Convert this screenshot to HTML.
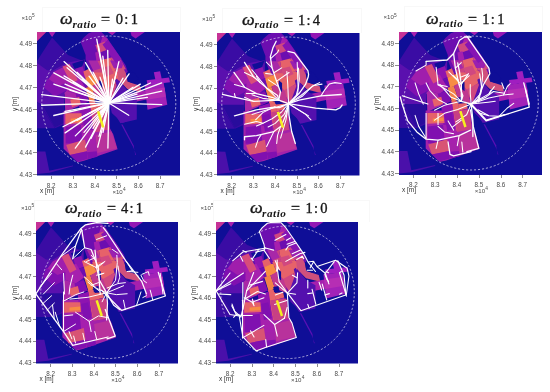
<!DOCTYPE html>
<html lang="en">
<head>
<meta charset="utf-8">
<title>Network layouts for different weight ratios</title>
<style>
html,body{margin:0;padding:0;background:#fff;}
#fig{position:relative;width:550px;height:392px;overflow:hidden;background:#fff;font-family:"Liberation Sans",sans-serif;}
.plot{position:absolute;display:block;}
.tk{position:absolute;width:3.5px;height:0.6px;background:#8c8c8c;}
.tkx{position:absolute;width:0.6px;height:3.5px;background:#8c8c8c;}
.yl{position:absolute;width:20px;text-align:right;font-size:6.4px;line-height:7px;color:#4a4a4a;}
.xl{position:absolute;width:20px;text-align:center;font-size:6.3px;line-height:7px;color:#4a4a4a;}
.ex{position:absolute;font-size:6.1px;line-height:7px;color:#4a4a4a;white-space:nowrap;}
.ex sup{font-size:4.8px;line-height:0;vertical-align:2.6px;margin-left:0.2px;}
.al{position:absolute;font-size:6.5px;line-height:8px;color:#2e2e2e;white-space:nowrap;}
.ay{transform-origin:0 0;transform:rotate(-90deg);}
.tb{position:absolute;box-sizing:border-box;border:0.6px solid #f8f8f8;border-bottom:none;background:transparent;}
.tt{position:absolute;font-family:"Liberation Serif",serif;font-size:14.5px;line-height:18px;height:18px;color:#161616;white-space:nowrap;-webkit-text-stroke:0.35px #161616;}
.tt span,.tt i,.tt sub{display:inline-block;}
.tt .om{font-size:16px;transform:scaleX(1.12);transform-origin:0 50%;}
.tt sub{font-style:italic;font-weight:bold;font-size:11.2px;line-height:0;vertical-align:-3.5px;letter-spacing:0.55px;margin-left:1.2px;-webkit-text-stroke:0;}
.tt .eq{margin-left:4.6px;transform:scaleX(1.1);transform-origin:0 50%;}
.tt .d1{margin-left:6.2px;}
.tt .co{margin-left:1.2px;}
.tt .d2{margin-left:2.3px;}
</style>
</head>
<body>
<div id="fig">
<!-- panel p1 -->
<svg class="plot" style="left:36.5px;top:32px" width="143" height="143.5" viewBox="0 0 143 143" preserveAspectRatio="none">
<rect x="0" y="0" width="143" height="143" fill="#0f0e97"/>
<g shape-rendering="geometricPrecision">
<polygon fill="#3a0ca4" points="15.1,5.4 31,23 46,29 46,62 27,62 27,92 18,96 3,72 0,70 0,29"/>
<polygon fill="#3a0ca4" points="0,70 3,72 18,96 0,96"/>
<polygon fill="#5a10ae" points="0,31 10,38 16,38.3 29.5,30.6 48,27.4 48,62 27,62 27,75 5,72 0,69.6"/>
<polygon fill="#280c9c" points="5,72 27,72 27,90.4 17.9,95"/>
<polygon fill="#4a10aa" points="0,119 8.4,119.1 12.3,138.3 36,133.1 36,133.9 12.5,140.3 0,141.6"/>
<polygon fill="#5a10b4" points="84.2,92.3 85.6,92.3 96.8,113.3 96.8,115.9"/>
<polygon fill="#5a10b4" points="96.5,112.8 96.5,115.4 99.1,122.5 98.3,122.5"/>
<polygon fill="#c63296" points="0,0 9.3,0 0,9.3"/>
<polygon fill="#a620ae" points="11.6,0 18.6,0 15.1,5.1"/>
<polygon fill="#a620ae" points="70.7,0 79,0 75.2,3.2"/>
<polygon fill="#9416b4" points="93.5,0 107.8,0 98.6,6.4 94.5,3.8"/>
<polygon fill="#6c0eb0" points="43.5,9.6 46.5,5.7 51.6,1.3 54.8,0 64.4,0 69.5,5.1 78.4,17.9 88.6,33.2 90.8,39.5 88,44 80,60 71.5,71.5 60,60 48.6,27.4 48.6,23"/>
<polygon fill="#a01eac" points="17,39.6 27.1,34.7 34.5,50.7 27.1,55.3 12.8,56.2 10.9,47.9"/>
<polygon fill="#0f0e97" points="35.1,31.7 47.8,27.6 44.7,35.4 37.8,36.9"/>
<polygon fill="#8e14b0" points="37.8,36.9 45.6,34.1 49.1,44.8 40.6,48.3"/>
<polygon fill="#e6626a" points="46.3,39.3 52.6,36.3 55.5,43.3 48.3,46.3"/>
<polygon fill="#f78c44" points="48.3,46.3 57.6,42 60.3,51.8 51.3,55.3"/>
<polygon fill="#6c0eb0" points="40.6,48.3 48.7,45.5 51.3,55.3 43.6,58.2"/>
<polygon fill="#f78c44" points="49.8,56.8 54.8,55.3 58.3,66 52.6,68"/>
<polygon fill="#d04880" points="60.3,51.8 68.8,48.3 73,59 64.6,61.8"/>
<polygon fill="#8010b0" points="10.6,46.1 21.6,53.5 31.8,49.8 34.2,55.9 17.9,64.5 6.9,55.3"/>
<polygon fill="#a620ae" points="65.9,3.8 71,7 68.4,12.8 63.3,11.5"/>
<polygon fill="#d04880" points="58.3,12.9 68,9.5 71,17.5 61,21"/>
<polygon fill="#a620ae" points="58.2,20.5 63.3,19.2 65.2,27.5 59.5,29.4"/>
<polygon fill="#e6626a" points="63.3,28.2 73.5,25.6 78.7,38.4 65.9,42.2"/>
<polygon fill="#cc4280" points="54.3,30.7 63.3,28.2 65.9,42.2 58.2,43.5"/>
<polygon fill="#d04880" points="73.5,25.6 81.2,23 88.9,37.1 78.7,38.4"/>
<polygon fill="#0f0e97" points="88.9,41 94.7,38.4 96.8,42.2 96.8,50.2 90.2,50.2 87.6,44.8"/>
<polygon fill="#e6626a" points="59.5,43.5 78.7,38.4 87.6,44.8 88.9,50.2 60.7,50.2"/>
<polygon fill="#5410ae" points="80.1,46.3 85.5,57.2 91.8,62.6 92.7,87.9 85.5,90.6 74.8,80.6 71.2,64.4 74.8,50"/>
<polygon fill="#d0507c" points="80.1,37.4 85.8,35.1 89.3,41.9 90.7,49.4 96.1,51.3 103.1,53.5 104.7,60.4 90.3,56.8 81.4,47.7"/>
<polygon fill="#0f0e97" points="89.3,41.3 96.7,40 101.8,46.4 96.1,51.1 90.7,49.3"/>
<polygon fill="#a620ae" points="90.9,61.7 108.8,58.1 110.6,67.1 92.7,70.7"/>
<polygon fill="#a01ec0" points="116.8,40 123.1,39.1 125.8,51.8 119.5,52.7"/>
<polygon fill="#a01ec0" points="109.6,48.1 132.1,45.4 133,50 110.5,52.7"/>
<polygon fill="#a222b8" points="107.8,52.7 126.7,50.9 130.3,72.5 110.5,77.4"/>
<polygon fill="#b62eb4" points="108.3,58.1 127.6,55.4 128.8,64.4 109.6,67.6"/>
<polygon fill="#5a10ae" points="92.7,70.7 97.2,69.8 99,82.4 92.7,87.9"/>
<polygon fill="#a422aa" points="26.6,78.6 71.5,78.4 73.1,96.4 76.3,102.2 80.6,116.8 47,128.4 40.9,129.8 26.6,116.4"/>
<polygon fill="#a620ae" points="29.6,45.8 40.4,42.2 48.4,55.8 40.4,62.1 29.6,58.5"/>
<polygon fill="#aa28a8" points="27.5,60.6 29.6,58.5 40.4,62.1 42.1,73.8 29.6,79.2 28.2,79.2"/>
<polygon fill="#8010b0" points="38.6,62.1 48.4,58.5 52,69.3 42.1,73.8"/>
<polygon fill="#e6626a" points="33.2,67.5 42.1,64.8 43.9,72 35,74.7"/>
<polygon fill="#e6626a" points="56.5,40.4 76.2,40.4 78.9,51.3 68.1,58.5 61,50.3"/>
<polygon fill="#f78c44" points="48.4,45.8 56.5,42.2 61,50.3 51.1,55.8"/>
<polygon fill="#f28248" points="48.4,55.8 54.7,54 59.2,67.5 52.9,70.2"/>
<polygon fill="#d04880" points="65.4,58.5 78.9,51.3 83.4,60.3 73.5,70.2"/>
<polygon fill="#c03890" points="54.7,54 61,50.3 68.1,58.5 71.7,72 59.2,67.5"/>
<polygon fill="#a822ac" points="59.6,78.8 68.5,76.4 71.9,94.2 64.3,99"/>
<polygon fill="#e6626a" points="52,68.7 58.9,68.7 61.2,88 64.3,99 57.4,99 54.3,84.2"/>
<polygon fill="#e6626a" points="58.9,71.8 67.3,71 68.5,76.4 59.6,78.8"/>
<polygon fill="#8e14b0" points="42.1,73.8 52.9,70.2 56.5,96.4 43.9,92.8"/>
<polygon fill="#f78c44" points="33.2,86.4 43.9,85.5 43.9,89.1 33.2,90.1"/>
<polygon fill="#0f0e97" points="57.4,65.7 62.8,64.8 63.7,70.2 58.3,71.1"/>
<polygon fill="#a620ae" points="43.9,92.8 56.5,94.6 58.3,111.2 45.7,111.2"/>
<polygon fill="#8010b0" points="28.7,94.6 43.9,92.8 45.7,111.2 28.7,111.2"/>
<polygon fill="#5410ae" points="81.6,47.6 90.5,58.5 99.8,63.9 99.8,87.3 83.4,91 72.6,72.9"/>
<polygon fill="#e6626a" points="28.3,81 44.5,81 45.4,90.9 28.3,91.8"/>
<polygon fill="#f78c44" points="33.7,86.4 44.5,85.5 44.5,89.1 33.7,89.7"/>
<polygon fill="#8010b0" points="45.4,82.8 52.5,81 56.1,97.2 48.1,99"/>
<polygon fill="#c84084" points="54.3,79.2 70.5,77.4 72.3,97.2 57.9,99.9"/>
<polygon fill="#d85474" points="29.2,112.6 48.1,107.2 49.9,118.9 32.8,122.5"/>
<polygon fill="#b8329c" points="58.5,103 74.5,99.2 80,116 60.5,120.5"/>
<polygon fill="#8010b0" points="32.8,122.5 49.9,118.9 50.7,126.5 40,129.4"/>
<polygon fill="#8010b0" points="49.9,119.8 59.7,118.9 60.6,124.3 51.1,126.5"/>
<polygon fill="#d84c7a" points="25.5,34.5 32.6,31.9 40.8,47.9 34.2,51.5"/>
<polygon fill="#a828a8" points="51.3,28.3 60.2,28.3 64.1,36 56.4,38.6"/>
<polygon fill="#9a20b0" points="73,28.3 84.5,28.3 86,33 84.8,36 76.9,36"/>
<polygon fill="#d04880" points="64.1,36 73,33.5 76.9,41.2 67.9,45"/>
<polygon fill="#0f0e97" points="62.1,47.6 65.3,50.2 65.3,59.2 62.1,56.7"/>
<polygon fill="#8614b4" points="71,8 84.5,27 78.8,31 65.5,12.5"/>
</g>
<circle cx="71.8" cy="71" r="67" fill="none" stroke="#e8e4f4" stroke-width="0.7" stroke-dasharray="2.1 1.9"/>
<polyline fill="none" stroke="#fff" stroke-width="1.3" stroke-linecap="round" stroke-linejoin="round" points="71.9,70.7 59.7,7.1"/>
<polyline fill="none" stroke="#fff" stroke-width="1.3" stroke-linecap="round" stroke-linejoin="round" points="71.9,70.7 61.5,14"/>
<polyline fill="none" stroke="#fff" stroke-width="1.3" stroke-linecap="round" stroke-linejoin="round" points="71.9,70.7 70.7,18.3"/>
<polyline fill="none" stroke="#fff" stroke-width="1.3" stroke-linecap="round" stroke-linejoin="round" points="71.9,70.7 65.8,24"/>
<polyline fill="none" stroke="#fff" stroke-width="1.3" stroke-linecap="round" stroke-linejoin="round" points="71.9,70.7 48.5,30.5"/>
<polyline fill="none" stroke="#fff" stroke-width="1.3" stroke-linecap="round" stroke-linejoin="round" points="71.9,70.7 56,40"/>
<polyline fill="none" stroke="#fff" stroke-width="1.3" stroke-linecap="round" stroke-linejoin="round" points="71.9,70.7 27,29.5"/>
<polyline fill="none" stroke="#fff" stroke-width="1.3" stroke-linecap="round" stroke-linejoin="round" points="71.9,70.7 30.1,35.6"/>
<polyline fill="none" stroke="#fff" stroke-width="1.3" stroke-linecap="round" stroke-linejoin="round" points="71.9,70.7 16.8,40.7"/>
<polyline fill="none" stroke="#fff" stroke-width="1.3" stroke-linecap="round" stroke-linejoin="round" points="71.9,70.7 27,43.7"/>
<polyline fill="none" stroke="#fff" stroke-width="1.3" stroke-linecap="round" stroke-linejoin="round" points="71.9,70.7 16.8,51.9"/>
<polyline fill="none" stroke="#fff" stroke-width="1.3" stroke-linecap="round" stroke-linejoin="round" points="71.9,70.7 28,52"/>
<polyline fill="none" stroke="#fff" stroke-width="1.3" stroke-linecap="round" stroke-linejoin="round" points="71.9,70.7 36,50"/>
<polyline fill="none" stroke="#fff" stroke-width="1.3" stroke-linecap="round" stroke-linejoin="round" points="71.9,70.7 4.6,62.5"/>
<polyline fill="none" stroke="#fff" stroke-width="1.3" stroke-linecap="round" stroke-linejoin="round" points="71.9,70.7 40,40"/>
<polyline fill="none" stroke="#fff" stroke-width="1.3" stroke-linecap="round" stroke-linejoin="round" points="71.9,70.7 45,47"/>
<polyline fill="none" stroke="#fff" stroke-width="1.3" stroke-linecap="round" stroke-linejoin="round" points="71.9,70.7 33,58"/>
<polyline fill="none" stroke="#fff" stroke-width="1.3" stroke-linecap="round" stroke-linejoin="round" points="71.9,70.7 52,44"/>
<polyline fill="none" stroke="#fff" stroke-width="1.3" stroke-linecap="round" stroke-linejoin="round" points="71.9,70.7 63,45"/>
<polyline fill="none" stroke="#fff" stroke-width="1.3" stroke-linecap="round" stroke-linejoin="round" points="71.9,70.7 81.9,29.5"/>
<polyline fill="none" stroke="#fff" stroke-width="1.3" stroke-linecap="round" stroke-linejoin="round" points="71.9,70.7 79.8,38.6"/>
<polyline fill="none" stroke="#fff" stroke-width="1.3" stroke-linecap="round" stroke-linejoin="round" points="71.9,70.7 92.1,41.7"/>
<polyline fill="none" stroke="#fff" stroke-width="1.3" stroke-linecap="round" stroke-linejoin="round" points="71.9,70.7 103.3,51.9"/>
<polyline fill="none" stroke="#fff" stroke-width="1.3" stroke-linecap="round" stroke-linejoin="round" points="71.9,70.7 113.5,50.8"/>
<polyline fill="none" stroke="#fff" stroke-width="1.3" stroke-linecap="round" stroke-linejoin="round" points="71.9,70.7 124.7,50.8"/>
<polyline fill="none" stroke="#fff" stroke-width="1.3" stroke-linecap="round" stroke-linejoin="round" points="71.9,70.7 124.7,59"/>
<polyline fill="none" stroke="#fff" stroke-width="1.3" stroke-linecap="round" stroke-linejoin="round" points="71.9,70.7 110.4,65.1"/>
<polyline fill="none" stroke="#fff" stroke-width="1.3" stroke-linecap="round" stroke-linejoin="round" points="71.9,70.7 124.7,72.4"/>
<polyline fill="none" stroke="#fff" stroke-width="1.3" stroke-linecap="round" stroke-linejoin="round" points="71.9,70.7 86,46"/>
<polyline fill="none" stroke="#fff" stroke-width="1.3" stroke-linecap="round" stroke-linejoin="round" points="71.9,70.7 96,55"/>
<polyline fill="none" stroke="#fff" stroke-width="1.3" stroke-linecap="round" stroke-linejoin="round" points="71.9,70.7 100,62"/>
<polyline fill="none" stroke="#fff" stroke-width="1.3" stroke-linecap="round" stroke-linejoin="round" points="71.9,70.7 75.5,47"/>
<polyline fill="none" stroke="#fff" stroke-width="1.3" stroke-linecap="round" stroke-linejoin="round" points="71.9,70.7 4.6,73"/>
<polyline fill="none" stroke="#fff" stroke-width="1.3" stroke-linecap="round" stroke-linejoin="round" points="71.9,70.7 16.8,83.2"/>
<polyline fill="none" stroke="#fff" stroke-width="1.3" stroke-linecap="round" stroke-linejoin="round" points="71.9,70.7 26,94.4"/>
<polyline fill="none" stroke="#fff" stroke-width="1.3" stroke-linecap="round" stroke-linejoin="round" points="71.9,70.7 28.1,100.5"/>
<polyline fill="none" stroke="#fff" stroke-width="1.3" stroke-linecap="round" stroke-linejoin="round" points="71.9,70.7 38.3,103.5"/>
<polyline fill="none" stroke="#fff" stroke-width="1.3" stroke-linecap="round" stroke-linejoin="round" points="71.9,70.7 38.3,115.7"/>
<polyline fill="none" stroke="#fff" stroke-width="1.3" stroke-linecap="round" stroke-linejoin="round" points="71.9,70.7 48.5,114.7"/>
<polyline fill="none" stroke="#fff" stroke-width="1.3" stroke-linecap="round" stroke-linejoin="round" points="71.9,70.7 60.7,114.7"/>
<polyline fill="none" stroke="#fff" stroke-width="1.3" stroke-linecap="round" stroke-linejoin="round" points="71.9,70.7 70.9,115.7"/>
<polyline fill="none" stroke="#fff" stroke-width="1.3" stroke-linecap="round" stroke-linejoin="round" points="71.9,70.7 28,79"/>
<polyline fill="none" stroke="#fff" stroke-width="1.3" stroke-linecap="round" stroke-linejoin="round" points="71.9,70.7 40,88"/>
<polyline fill="none" stroke="#fff" stroke-width="1.3" stroke-linecap="round" stroke-linejoin="round" points="71.9,70.7 33,91"/>
<polyline fill="none" stroke="#fff" stroke-width="1.3" stroke-linecap="round" stroke-linejoin="round" points="71.9,70.7 47,100"/>
<polyline fill="none" stroke="#fff" stroke-width="1.3" stroke-linecap="round" stroke-linejoin="round" points="71.9,70.7 54,106"/>
<polyline fill="none" stroke="#fff" stroke-width="1.3" stroke-linecap="round" stroke-linejoin="round" points="71.9,70.7 56,96"/>
<polyline fill="none" stroke="#fff" stroke-width="1.3" stroke-linecap="round" stroke-linejoin="round" points="71.9,70.7 62,104"/>
<polyline fill="none" stroke="#fff" stroke-width="1.3" stroke-linecap="round" stroke-linejoin="round" points="71.9,70.7 66,100"/>
<polyline fill="none" stroke="#fff" stroke-width="1.3" stroke-linecap="round" stroke-linejoin="round" points="71.9,70.7 91.7,83"/>
<polyline fill="none" stroke="#f4f01e" stroke-width="2.5" stroke-linecap="butt" points="61.1,79.2 66.2,95"/>
</svg>
<div class="tk" style="left:33px;top:43.3px"></div>
<div class="yl" style="left:12px;top:40px">4.49</div>
<div class="tk" style="left:33px;top:65.1px"></div>
<div class="yl" style="left:12px;top:61.8px">4.48</div>
<div class="tk" style="left:33px;top:87px"></div>
<div class="yl" style="left:12px;top:83.7px">4.47</div>
<div class="tk" style="left:33px;top:108.8px"></div>
<div class="yl" style="left:12px;top:105.5px">4.46</div>
<div class="tk" style="left:33px;top:130.6px"></div>
<div class="yl" style="left:12px;top:127.3px">4.45</div>
<div class="tk" style="left:33px;top:152.4px"></div>
<div class="yl" style="left:12px;top:149.1px">4.44</div>
<div class="tk" style="left:33px;top:174.2px"></div>
<div class="yl" style="left:12px;top:170.9px">4.43</div>
<div class="tkx" style="left:50.9px;top:175.5px"></div>
<div class="xl" style="left:41.2px;top:181.9px">8.2</div>
<div class="tkx" style="left:72.7px;top:175.5px"></div>
<div class="xl" style="left:63px;top:181.9px">8.3</div>
<div class="tkx" style="left:94.5px;top:175.5px"></div>
<div class="xl" style="left:84.8px;top:181.9px">8.4</div>
<div class="tkx" style="left:116.3px;top:175.5px"></div>
<div class="xl" style="left:106.6px;top:181.9px">8.5</div>
<div class="tkx" style="left:138.1px;top:175.5px"></div>
<div class="xl" style="left:128.4px;top:181.9px">8.6</div>
<div class="tkx" style="left:159.9px;top:175.5px"></div>
<div class="xl" style="left:150.2px;top:181.9px">8.7</div>
<div class="ex" style="left:21.5px;top:13.8px">×10<sup>5</sup></div>
<div class="ex" style="left:112.4px;top:187.8px">×10<sup>4</sup></div>
<div class="al" style="left:40px;top:187.1px">x [m]</div>
<div class="al ay" style="left:11px;top:110.7px">y [m]</div>
<div class="tb" style="left:41.5px;top:6.5px;width:139.5px;height:25.5px"></div>
<div class="tt" style="left:59.9px;top:10.2px"><i class="om">ω</i><sub>ratio</sub><span class="eq">=</span><span class="d1">0</span><span class="co">:</span><span class="d2">1</span></div>
<!-- panel p2 -->
<svg class="plot" style="left:217px;top:33px" width="142.5" height="142.5" viewBox="0 0 143 143" preserveAspectRatio="none">
<rect x="0" y="0" width="143" height="143" fill="#0f0e97"/>
<g shape-rendering="geometricPrecision">
<polygon fill="#3a0ca4" points="15.1,5.4 31,23 46,29 46,62 27,62 27,92 18,96 3,72 0,70 0,29"/>
<polygon fill="#3a0ca4" points="0,70 3,72 18,96 0,96"/>
<polygon fill="#5a10ae" points="0,31 10,38 16,38.3 29.5,30.6 48,27.4 48,62 27,62 27,75 5,72 0,69.6"/>
<polygon fill="#280c9c" points="5,72 27,72 27,90.4 17.9,95"/>
<polygon fill="#4a10aa" points="0,119 8.4,119.1 12.3,138.3 36,133.1 36,133.9 12.5,140.3 0,141.6"/>
<polygon fill="#5a10b4" points="84.2,92.3 85.6,92.3 96.8,113.3 96.8,115.9"/>
<polygon fill="#5a10b4" points="96.5,112.8 96.5,115.4 99.1,122.5 98.3,122.5"/>
<polygon fill="#c63296" points="0,0 9.3,0 0,9.3"/>
<polygon fill="#a620ae" points="11.6,0 18.6,0 15.1,5.1"/>
<polygon fill="#a620ae" points="70.7,0 79,0 75.2,3.2"/>
<polygon fill="#9416b4" points="93.5,0 107.8,0 98.6,6.4 94.5,3.8"/>
<polygon fill="#6c0eb0" points="43.5,9.6 46.5,5.7 51.6,1.3 54.8,0 64.4,0 69.5,5.1 78.4,17.9 88.6,33.2 90.8,39.5 88,44 80,60 71.5,71.5 60,60 48.6,27.4 48.6,23"/>
<polygon fill="#a01eac" points="17,39.6 27.1,34.7 34.5,50.7 27.1,55.3 12.8,56.2 10.9,47.9"/>
<polygon fill="#0f0e97" points="35.1,31.7 47.8,27.6 44.7,35.4 37.8,36.9"/>
<polygon fill="#8e14b0" points="37.8,36.9 45.6,34.1 49.1,44.8 40.6,48.3"/>
<polygon fill="#e6626a" points="46.3,39.3 52.6,36.3 55.5,43.3 48.3,46.3"/>
<polygon fill="#f78c44" points="48.3,46.3 57.6,42 60.3,51.8 51.3,55.3"/>
<polygon fill="#6c0eb0" points="40.6,48.3 48.7,45.5 51.3,55.3 43.6,58.2"/>
<polygon fill="#f78c44" points="49.8,56.8 54.8,55.3 58.3,66 52.6,68"/>
<polygon fill="#d04880" points="60.3,51.8 68.8,48.3 73,59 64.6,61.8"/>
<polygon fill="#8010b0" points="10.6,46.1 21.6,53.5 31.8,49.8 34.2,55.9 17.9,64.5 6.9,55.3"/>
<polygon fill="#a620ae" points="65.9,3.8 71,7 68.4,12.8 63.3,11.5"/>
<polygon fill="#d04880" points="58.3,12.9 68,9.5 71,17.5 61,21"/>
<polygon fill="#a620ae" points="58.2,20.5 63.3,19.2 65.2,27.5 59.5,29.4"/>
<polygon fill="#e6626a" points="63.3,28.2 73.5,25.6 78.7,38.4 65.9,42.2"/>
<polygon fill="#cc4280" points="54.3,30.7 63.3,28.2 65.9,42.2 58.2,43.5"/>
<polygon fill="#d04880" points="73.5,25.6 81.2,23 88.9,37.1 78.7,38.4"/>
<polygon fill="#0f0e97" points="88.9,41 94.7,38.4 96.8,42.2 96.8,50.2 90.2,50.2 87.6,44.8"/>
<polygon fill="#e6626a" points="59.5,43.5 78.7,38.4 87.6,44.8 88.9,50.2 60.7,50.2"/>
<polygon fill="#5410ae" points="80.1,46.3 85.5,57.2 91.8,62.6 92.7,87.9 85.5,90.6 74.8,80.6 71.2,64.4 74.8,50"/>
<polygon fill="#d0507c" points="80.1,37.4 85.8,35.1 89.3,41.9 90.7,49.4 96.1,51.3 103.1,53.5 104.7,60.4 90.3,56.8 81.4,47.7"/>
<polygon fill="#0f0e97" points="89.3,41.3 96.7,40 101.8,46.4 96.1,51.1 90.7,49.3"/>
<polygon fill="#a620ae" points="90.9,61.7 108.8,58.1 110.6,67.1 92.7,70.7"/>
<polygon fill="#a01ec0" points="116.8,40 123.1,39.1 125.8,51.8 119.5,52.7"/>
<polygon fill="#a01ec0" points="109.6,48.1 132.1,45.4 133,50 110.5,52.7"/>
<polygon fill="#a222b8" points="107.8,52.7 126.7,50.9 130.3,72.5 110.5,77.4"/>
<polygon fill="#b62eb4" points="108.3,58.1 127.6,55.4 128.8,64.4 109.6,67.6"/>
<polygon fill="#5a10ae" points="92.7,70.7 97.2,69.8 99,82.4 92.7,87.9"/>
<polygon fill="#a422aa" points="26.6,78.6 71.5,78.4 73.1,96.4 76.3,102.2 80.6,116.8 47,128.4 40.9,129.8 26.6,116.4"/>
<polygon fill="#a620ae" points="29.6,45.8 40.4,42.2 48.4,55.8 40.4,62.1 29.6,58.5"/>
<polygon fill="#aa28a8" points="27.5,60.6 29.6,58.5 40.4,62.1 42.1,73.8 29.6,79.2 28.2,79.2"/>
<polygon fill="#8010b0" points="38.6,62.1 48.4,58.5 52,69.3 42.1,73.8"/>
<polygon fill="#e6626a" points="33.2,67.5 42.1,64.8 43.9,72 35,74.7"/>
<polygon fill="#e6626a" points="56.5,40.4 76.2,40.4 78.9,51.3 68.1,58.5 61,50.3"/>
<polygon fill="#f78c44" points="48.4,45.8 56.5,42.2 61,50.3 51.1,55.8"/>
<polygon fill="#f28248" points="48.4,55.8 54.7,54 59.2,67.5 52.9,70.2"/>
<polygon fill="#d04880" points="65.4,58.5 78.9,51.3 83.4,60.3 73.5,70.2"/>
<polygon fill="#c03890" points="54.7,54 61,50.3 68.1,58.5 71.7,72 59.2,67.5"/>
<polygon fill="#a822ac" points="59.6,78.8 68.5,76.4 71.9,94.2 64.3,99"/>
<polygon fill="#e6626a" points="52,68.7 58.9,68.7 61.2,88 64.3,99 57.4,99 54.3,84.2"/>
<polygon fill="#e6626a" points="58.9,71.8 67.3,71 68.5,76.4 59.6,78.8"/>
<polygon fill="#8e14b0" points="42.1,73.8 52.9,70.2 56.5,96.4 43.9,92.8"/>
<polygon fill="#f78c44" points="33.2,86.4 43.9,85.5 43.9,89.1 33.2,90.1"/>
<polygon fill="#0f0e97" points="57.4,65.7 62.8,64.8 63.7,70.2 58.3,71.1"/>
<polygon fill="#a620ae" points="43.9,92.8 56.5,94.6 58.3,111.2 45.7,111.2"/>
<polygon fill="#8010b0" points="28.7,94.6 43.9,92.8 45.7,111.2 28.7,111.2"/>
<polygon fill="#5410ae" points="81.6,47.6 90.5,58.5 99.8,63.9 99.8,87.3 83.4,91 72.6,72.9"/>
<polygon fill="#e6626a" points="28.3,81 44.5,81 45.4,90.9 28.3,91.8"/>
<polygon fill="#f78c44" points="33.7,86.4 44.5,85.5 44.5,89.1 33.7,89.7"/>
<polygon fill="#8010b0" points="45.4,82.8 52.5,81 56.1,97.2 48.1,99"/>
<polygon fill="#c84084" points="54.3,79.2 70.5,77.4 72.3,97.2 57.9,99.9"/>
<polygon fill="#d85474" points="29.2,112.6 48.1,107.2 49.9,118.9 32.8,122.5"/>
<polygon fill="#b8329c" points="58.5,103 74.5,99.2 80,116 60.5,120.5"/>
<polygon fill="#8010b0" points="32.8,122.5 49.9,118.9 50.7,126.5 40,129.4"/>
<polygon fill="#8010b0" points="49.9,119.8 59.7,118.9 60.6,124.3 51.1,126.5"/>
<polygon fill="#d84c7a" points="25.5,34.5 32.6,31.9 40.8,47.9 34.2,51.5"/>
<polygon fill="#a828a8" points="51.3,28.3 60.2,28.3 64.1,36 56.4,38.6"/>
<polygon fill="#9a20b0" points="73,28.3 84.5,28.3 86,33 84.8,36 76.9,36"/>
<polygon fill="#d04880" points="64.1,36 73,33.5 76.9,41.2 67.9,45"/>
<polygon fill="#0f0e97" points="62.1,47.6 65.3,50.2 65.3,59.2 62.1,56.7"/>
<polygon fill="#8614b4" points="71,8 84.5,27 78.8,31 65.5,12.5"/>
</g>
<circle cx="71.8" cy="71" r="67" fill="none" stroke="#e8e4f4" stroke-width="0.7" stroke-dasharray="2.1 1.9"/>
<polyline fill="none" stroke="#fff" stroke-width="1.3" stroke-linecap="round" stroke-linejoin="round" points="62,67.4 71.8,70.9"/>
<polyline fill="none" stroke="#fff" stroke-width="1.3" stroke-linecap="round" stroke-linejoin="round" points="62,67.4 63.6,59 59,46.1 55.3,35 53.5,24 56.2,14.7 59.4,8.3"/>
<polyline fill="none" stroke="#fff" stroke-width="1.05" stroke-linecap="round" stroke-linejoin="round" points="55.3,35 49.4,29.1"/>
<polyline fill="none" stroke="#fff" stroke-width="1.05" stroke-linecap="round" stroke-linejoin="round" points="53.8,25.8 60.8,19.4 61.9,17"/>
<polyline fill="none" stroke="#fff" stroke-width="1.05" stroke-linecap="round" stroke-linejoin="round" points="57.5,39.6 64.9,35"/>
<polyline fill="none" stroke="#fff" stroke-width="1.05" stroke-linecap="round" stroke-linejoin="round" points="59.9,48.3 72.3,39.6"/>
<polyline fill="none" stroke="#fff" stroke-width="1.05" stroke-linecap="round" stroke-linejoin="round" points="61.4,53.5 51.6,47"/>
<polyline fill="none" stroke="#fff" stroke-width="1.05" stroke-linecap="round" stroke-linejoin="round" points="48.8,40.5 55.3,41.5"/>
<polyline fill="none" stroke="#fff" stroke-width="1.3" stroke-linecap="round" stroke-linejoin="round" points="62,67.4 60.8,62.7 49.8,55.3 36.9,44.2 27.6,29.5"/>
<polyline fill="none" stroke="#fff" stroke-width="1.05" stroke-linecap="round" stroke-linejoin="round" points="36.9,44.2 27.6,39.6"/>
<polyline fill="none" stroke="#fff" stroke-width="1.05" stroke-linecap="round" stroke-linejoin="round" points="43.3,49.8 39.6,43.3"/>
<polyline fill="none" stroke="#fff" stroke-width="1.3" stroke-linecap="round" stroke-linejoin="round" points="62,67.4 55.3,64.5 39.6,60.8 27.6,54.4 17,39.6"/>
<polyline fill="none" stroke="#fff" stroke-width="1.05" stroke-linecap="round" stroke-linejoin="round" points="39.6,60.8 29.5,60.8"/>
<polyline fill="none" stroke="#fff" stroke-width="1.05" stroke-linecap="round" stroke-linejoin="round" points="27.6,54.4 17.5,51.6"/>
<polyline fill="none" stroke="#fff" stroke-width="1.3" stroke-linecap="round" stroke-linejoin="round" points="62,67.4 36.9,68.6 18.4,64.5 5.5,61.7"/>
<polyline fill="none" stroke="#fff" stroke-width="1.05" stroke-linecap="round" stroke-linejoin="round" points="18.4,64.5 17.5,60.8"/>
<polyline fill="none" stroke="#fff" stroke-width="1.05" stroke-linecap="round" stroke-linejoin="round" points="36.9,68.6 27.6,64.5"/>
<polyline fill="none" stroke="#fff" stroke-width="1.3" stroke-linecap="round" stroke-linejoin="round" points="71.8,70.9 82.3,67.3 104.4,63 124.7,61.7"/>
<polyline fill="none" stroke="#fff" stroke-width="1.05" stroke-linecap="round" stroke-linejoin="round" points="104.4,63 108.1,57.1 112.7,51.2 118.3,49.8 124.7,50.7"/>
<polyline fill="none" stroke="#fff" stroke-width="1.05" stroke-linecap="round" stroke-linejoin="round" points="71.8,70.9 84.2,62.7 93.4,55.3 98.9,51.6 103,49.8"/>
<polyline fill="none" stroke="#fff" stroke-width="1.3" stroke-linecap="round" stroke-linejoin="round" points="71.8,70.9 82.3,60.8 88.8,51.6 91.5,44.2 91.9,41.5 91.2,37.8 77.7,19.9 71.2,18.4"/>
<polyline fill="none" stroke="#fff" stroke-width="1.05" stroke-linecap="round" stroke-linejoin="round" points="71.8,70.9 79.5,62.7 81.4,55.3 80.5,29.5"/>
<polyline fill="none" stroke="#fff" stroke-width="1.3" stroke-linecap="round" stroke-linejoin="round" points="71.8,70.9 62.7,74.9 55.3,74.6 39.6,77.1 17.5,83.2"/>
<polyline fill="none" stroke="#fff" stroke-width="1.05" stroke-linecap="round" stroke-linejoin="round" points="71.8,70.9 64.5,79.5 55.3,86 46.1,90.6 39.6,93.4"/>
<polyline fill="none" stroke="#fff" stroke-width="1.3" stroke-linecap="round" stroke-linejoin="round" points="71.8,70.9 69.1,82.3 64.5,93.4 57.1,98.9 39.6,103 27.6,104.1 27.6,107.2"/>
<polyline fill="none" stroke="#fff" stroke-width="1.05" stroke-linecap="round" stroke-linejoin="round" points="44.2,102.2 41.5,106.3 38.7,114.6"/>
<polyline fill="none" stroke="#fff" stroke-width="1.05" stroke-linecap="round" stroke-linejoin="round" points="57.1,98.9 53.5,106.3 49.8,114"/>
<polyline fill="none" stroke="#fff" stroke-width="1.05" stroke-linecap="round" stroke-linejoin="round" points="63.6,94.3 60.8,102.6 59.9,110.9"/>
<polyline fill="none" stroke="#fff" stroke-width="1.05" stroke-linecap="round" stroke-linejoin="round" points="27.6,91.5 39.6,88.8 46.1,90.6"/>
<polyline fill="none" stroke="#fff" stroke-width="1.05" stroke-linecap="round" stroke-linejoin="round" points="71.8,70.9 76.8,74 91.9,83.2"/>
<polyline fill="none" stroke="#fff" stroke-width="1.3" stroke-linecap="round" stroke-linejoin="round" points="71.8,70.9 82.3,72.7 98.9,75.3 119.2,77.1 123.8,74.9 125.6,72.2"/>
<polyline fill="none" stroke="#fff" stroke-width="1.3" stroke-linecap="round" stroke-linejoin="round" points="71.8,70.9 72.2,82.3 74.9,98.9 78.6,110.9"/>
<polyline fill="none" stroke="#fff" stroke-width="1.05" stroke-linecap="round" stroke-linejoin="round" points="71.8,70.9 71,51.3 70.1,38.7"/>
<polyline fill="none" stroke="#fff" stroke-width="1.05" stroke-linecap="round" stroke-linejoin="round" points="71.8,70.9 80.8,62 82.6,45.9 81.7,35.1"/>
<polyline fill="none" stroke="#fff" stroke-width="1.05" stroke-linecap="round" stroke-linejoin="round" points="71.8,70.9 85.3,63.8 96.1,53 105.4,51.3"/>
<polyline fill="none" stroke="#fff" stroke-width="1.05" stroke-linecap="round" stroke-linejoin="round" points="71.8,70.9 88.9,81.7 94.3,87.1"/>
<polyline fill="none" stroke="#fff" stroke-width="1.05" stroke-linecap="round" stroke-linejoin="round" points="71.8,70.9 67.4,81.7 58.4,90.7 51.3,94.3"/>
<polyline fill="none" stroke="#fff" stroke-width="1.05" stroke-linecap="round" stroke-linejoin="round" points="71.8,70.9 69.2,87.1 63.8,105.4"/>
<polyline fill="none" stroke="#fff" stroke-width="1.05" stroke-linecap="round" stroke-linejoin="round" points="71.8,70.9 53,76.3 35.1,81.7"/>
<polyline fill="none" stroke="#fff" stroke-width="1.05" stroke-linecap="round" stroke-linejoin="round" points="58.4,73.7 45.9,79.9 38.7,87.1"/>
<polyline fill="none" stroke="#fff" stroke-width="1.05" stroke-linecap="round" stroke-linejoin="round" points="62,67.4 49.5,54.8 35.1,36.9"/>
<polyline fill="none" stroke="#fff" stroke-width="1.05" stroke-linecap="round" stroke-linejoin="round" points="62,67.4 45.9,65.6 35.1,62"/>
<polyline fill="none" stroke="#f4f01e" stroke-width="2.5" stroke-linecap="butt" points="61.1,79.2 66.2,95"/>
</svg>
<div class="tk" style="left:213.5px;top:44.3px"></div>
<div class="yl" style="left:192.5px;top:41px">4.49</div>
<div class="tk" style="left:213.5px;top:65.9px"></div>
<div class="yl" style="left:192.5px;top:62.6px">4.48</div>
<div class="tk" style="left:213.5px;top:87.6px"></div>
<div class="yl" style="left:192.5px;top:84.3px">4.47</div>
<div class="tk" style="left:213.5px;top:109.2px"></div>
<div class="yl" style="left:192.5px;top:105.9px">4.46</div>
<div class="tk" style="left:213.5px;top:130.9px"></div>
<div class="yl" style="left:192.5px;top:127.6px">4.45</div>
<div class="tk" style="left:213.5px;top:152.5px"></div>
<div class="yl" style="left:192.5px;top:149.2px">4.44</div>
<div class="tk" style="left:213.5px;top:174.2px"></div>
<div class="yl" style="left:192.5px;top:170.9px">4.43</div>
<div class="tkx" style="left:231.3px;top:175.5px"></div>
<div class="xl" style="left:221.6px;top:181.9px">8.2</div>
<div class="tkx" style="left:253.1px;top:175.5px"></div>
<div class="xl" style="left:243.4px;top:181.9px">8.3</div>
<div class="tkx" style="left:274.8px;top:175.5px"></div>
<div class="xl" style="left:265.1px;top:181.9px">8.4</div>
<div class="tkx" style="left:296.5px;top:175.5px"></div>
<div class="xl" style="left:286.8px;top:181.9px">8.5</div>
<div class="tkx" style="left:318.2px;top:175.5px"></div>
<div class="xl" style="left:308.5px;top:181.9px">8.6</div>
<div class="tkx" style="left:340px;top:175.5px"></div>
<div class="xl" style="left:330.3px;top:181.9px">8.7</div>
<div class="ex" style="left:202px;top:14.8px">×10<sup>5</sup></div>
<div class="ex" style="left:292.6px;top:187.8px">×10<sup>4</sup></div>
<div class="al" style="left:220.5px;top:187.1px">x [m]</div>
<div class="al ay" style="left:191.5px;top:111.2px">y [m]</div>
<div class="tb" style="left:222px;top:7.5px;width:139.5px;height:25.5px"></div>
<div class="tt" style="left:242.1px;top:10.9px"><i class="om">ω</i><sub>ratio</sub><span class="eq">=</span><span class="d1">1</span><span class="co">:</span><span class="d2">4</span></div>
<!-- panel p3 -->
<svg class="plot" style="left:398.5px;top:31.5px" width="143.5" height="143" viewBox="0 0 143 143" preserveAspectRatio="none">
<rect x="0" y="0" width="143" height="143" fill="#0f0e97"/>
<g shape-rendering="geometricPrecision">
<polygon fill="#3a0ca4" points="15.1,5.4 31,23 46,29 46,62 27,62 27,92 18,96 3,72 0,70 0,29"/>
<polygon fill="#3a0ca4" points="0,70 3,72 18,96 0,96"/>
<polygon fill="#5a10ae" points="0,31 10,38 16,38.3 29.5,30.6 48,27.4 48,62 27,62 27,75 5,72 0,69.6"/>
<polygon fill="#280c9c" points="5,72 27,72 27,90.4 17.9,95"/>
<polygon fill="#4a10aa" points="0,119 8.4,119.1 12.3,138.3 36,133.1 36,133.9 12.5,140.3 0,141.6"/>
<polygon fill="#5a10b4" points="84.2,92.3 85.6,92.3 96.8,113.3 96.8,115.9"/>
<polygon fill="#5a10b4" points="96.5,112.8 96.5,115.4 99.1,122.5 98.3,122.5"/>
<polygon fill="#c63296" points="0,0 9.3,0 0,9.3"/>
<polygon fill="#a620ae" points="11.6,0 18.6,0 15.1,5.1"/>
<polygon fill="#a620ae" points="70.7,0 79,0 75.2,3.2"/>
<polygon fill="#9416b4" points="93.5,0 107.8,0 98.6,6.4 94.5,3.8"/>
<polygon fill="#6c0eb0" points="43.5,9.6 46.5,5.7 51.6,1.3 54.8,0 64.4,0 69.5,5.1 78.4,17.9 88.6,33.2 90.8,39.5 88,44 80,60 71.5,71.5 60,60 48.6,27.4 48.6,23"/>
<polygon fill="#a01eac" points="17,39.6 27.1,34.7 34.5,50.7 27.1,55.3 12.8,56.2 10.9,47.9"/>
<polygon fill="#0f0e97" points="35.1,31.7 47.8,27.6 44.7,35.4 37.8,36.9"/>
<polygon fill="#8e14b0" points="37.8,36.9 45.6,34.1 49.1,44.8 40.6,48.3"/>
<polygon fill="#e6626a" points="46.3,39.3 52.6,36.3 55.5,43.3 48.3,46.3"/>
<polygon fill="#f78c44" points="48.3,46.3 57.6,42 60.3,51.8 51.3,55.3"/>
<polygon fill="#6c0eb0" points="40.6,48.3 48.7,45.5 51.3,55.3 43.6,58.2"/>
<polygon fill="#f78c44" points="49.8,56.8 54.8,55.3 58.3,66 52.6,68"/>
<polygon fill="#d04880" points="60.3,51.8 68.8,48.3 73,59 64.6,61.8"/>
<polygon fill="#8010b0" points="10.6,46.1 21.6,53.5 31.8,49.8 34.2,55.9 17.9,64.5 6.9,55.3"/>
<polygon fill="#a620ae" points="65.9,3.8 71,7 68.4,12.8 63.3,11.5"/>
<polygon fill="#d04880" points="58.3,12.9 68,9.5 71,17.5 61,21"/>
<polygon fill="#a620ae" points="58.2,20.5 63.3,19.2 65.2,27.5 59.5,29.4"/>
<polygon fill="#e6626a" points="63.3,28.2 73.5,25.6 78.7,38.4 65.9,42.2"/>
<polygon fill="#cc4280" points="54.3,30.7 63.3,28.2 65.9,42.2 58.2,43.5"/>
<polygon fill="#d04880" points="73.5,25.6 81.2,23 88.9,37.1 78.7,38.4"/>
<polygon fill="#0f0e97" points="88.9,41 94.7,38.4 96.8,42.2 96.8,50.2 90.2,50.2 87.6,44.8"/>
<polygon fill="#e6626a" points="59.5,43.5 78.7,38.4 87.6,44.8 88.9,50.2 60.7,50.2"/>
<polygon fill="#5410ae" points="80.1,46.3 85.5,57.2 91.8,62.6 92.7,87.9 85.5,90.6 74.8,80.6 71.2,64.4 74.8,50"/>
<polygon fill="#d0507c" points="80.1,37.4 85.8,35.1 89.3,41.9 90.7,49.4 96.1,51.3 103.1,53.5 104.7,60.4 90.3,56.8 81.4,47.7"/>
<polygon fill="#0f0e97" points="89.3,41.3 96.7,40 101.8,46.4 96.1,51.1 90.7,49.3"/>
<polygon fill="#a620ae" points="90.9,61.7 108.8,58.1 110.6,67.1 92.7,70.7"/>
<polygon fill="#a01ec0" points="116.8,40 123.1,39.1 125.8,51.8 119.5,52.7"/>
<polygon fill="#a01ec0" points="109.6,48.1 132.1,45.4 133,50 110.5,52.7"/>
<polygon fill="#a222b8" points="107.8,52.7 126.7,50.9 130.3,72.5 110.5,77.4"/>
<polygon fill="#b62eb4" points="108.3,58.1 127.6,55.4 128.8,64.4 109.6,67.6"/>
<polygon fill="#5a10ae" points="92.7,70.7 97.2,69.8 99,82.4 92.7,87.9"/>
<polygon fill="#a422aa" points="26.6,78.6 71.5,78.4 73.1,96.4 76.3,102.2 80.6,116.8 47,128.4 40.9,129.8 26.6,116.4"/>
<polygon fill="#a620ae" points="29.6,45.8 40.4,42.2 48.4,55.8 40.4,62.1 29.6,58.5"/>
<polygon fill="#aa28a8" points="27.5,60.6 29.6,58.5 40.4,62.1 42.1,73.8 29.6,79.2 28.2,79.2"/>
<polygon fill="#8010b0" points="38.6,62.1 48.4,58.5 52,69.3 42.1,73.8"/>
<polygon fill="#e6626a" points="33.2,67.5 42.1,64.8 43.9,72 35,74.7"/>
<polygon fill="#e6626a" points="56.5,40.4 76.2,40.4 78.9,51.3 68.1,58.5 61,50.3"/>
<polygon fill="#f78c44" points="48.4,45.8 56.5,42.2 61,50.3 51.1,55.8"/>
<polygon fill="#f28248" points="48.4,55.8 54.7,54 59.2,67.5 52.9,70.2"/>
<polygon fill="#d04880" points="65.4,58.5 78.9,51.3 83.4,60.3 73.5,70.2"/>
<polygon fill="#c03890" points="54.7,54 61,50.3 68.1,58.5 71.7,72 59.2,67.5"/>
<polygon fill="#a822ac" points="59.6,78.8 68.5,76.4 71.9,94.2 64.3,99"/>
<polygon fill="#e6626a" points="52,68.7 58.9,68.7 61.2,88 64.3,99 57.4,99 54.3,84.2"/>
<polygon fill="#e6626a" points="58.9,71.8 67.3,71 68.5,76.4 59.6,78.8"/>
<polygon fill="#8e14b0" points="42.1,73.8 52.9,70.2 56.5,96.4 43.9,92.8"/>
<polygon fill="#f78c44" points="33.2,86.4 43.9,85.5 43.9,89.1 33.2,90.1"/>
<polygon fill="#0f0e97" points="57.4,65.7 62.8,64.8 63.7,70.2 58.3,71.1"/>
<polygon fill="#a620ae" points="43.9,92.8 56.5,94.6 58.3,111.2 45.7,111.2"/>
<polygon fill="#8010b0" points="28.7,94.6 43.9,92.8 45.7,111.2 28.7,111.2"/>
<polygon fill="#5410ae" points="81.6,47.6 90.5,58.5 99.8,63.9 99.8,87.3 83.4,91 72.6,72.9"/>
<polygon fill="#e6626a" points="28.3,81 44.5,81 45.4,90.9 28.3,91.8"/>
<polygon fill="#f78c44" points="33.7,86.4 44.5,85.5 44.5,89.1 33.7,89.7"/>
<polygon fill="#8010b0" points="45.4,82.8 52.5,81 56.1,97.2 48.1,99"/>
<polygon fill="#c84084" points="54.3,79.2 70.5,77.4 72.3,97.2 57.9,99.9"/>
<polygon fill="#d85474" points="29.2,112.6 48.1,107.2 49.9,118.9 32.8,122.5"/>
<polygon fill="#b8329c" points="58.5,103 74.5,99.2 80,116 60.5,120.5"/>
<polygon fill="#8010b0" points="32.8,122.5 49.9,118.9 50.7,126.5 40,129.4"/>
<polygon fill="#8010b0" points="49.9,119.8 59.7,118.9 60.6,124.3 51.1,126.5"/>
<polygon fill="#d84c7a" points="25.5,34.5 32.6,31.9 40.8,47.9 34.2,51.5"/>
<polygon fill="#a828a8" points="51.3,28.3 60.2,28.3 64.1,36 56.4,38.6"/>
<polygon fill="#9a20b0" points="73,28.3 84.5,28.3 86,33 84.8,36 76.9,36"/>
<polygon fill="#d04880" points="64.1,36 73,33.5 76.9,41.2 67.9,45"/>
<polygon fill="#0f0e97" points="62.1,47.6 65.3,50.2 65.3,59.2 62.1,56.7"/>
<polygon fill="#8614b4" points="71,8 84.5,27 78.8,31 65.5,12.5"/>
</g>
<circle cx="71.8" cy="71" r="67" fill="none" stroke="#e8e4f4" stroke-width="0.7" stroke-dasharray="2.1 1.9"/>
<polyline fill="none" stroke="#fff" stroke-width="1.3" stroke-linecap="round" stroke-linejoin="round" points="62.1,69.3 71.9,72"/>
<polyline fill="none" stroke="#fff" stroke-width="1.3" stroke-linecap="round" stroke-linejoin="round" points="27,29.3 48,28 54.4,21.5 60.3,8.3 65.4,5 71.8,5"/>
<polyline fill="none" stroke="#fff" stroke-width="1.05" stroke-linecap="round" stroke-linejoin="round" points="16.9,39 27,33.1 27,29.3"/>
<polyline fill="none" stroke="#fff" stroke-width="1.3" stroke-linecap="round" stroke-linejoin="round" points="54.4,21.5 56.2,36.2 59.9,52.8 63.6,63.8 62.1,69.3"/>
<polyline fill="none" stroke="#fff" stroke-width="1.05" stroke-linecap="round" stroke-linejoin="round" points="59.9,52.8 70,43.6"/>
<polyline fill="none" stroke="#fff" stroke-width="1.05" stroke-linecap="round" stroke-linejoin="round" points="56.2,36.2 62.1,30.7"/>
<polyline fill="none" stroke="#fff" stroke-width="1.05" stroke-linecap="round" stroke-linejoin="round" points="59,48.2 54,43.6"/>
<polyline fill="none" stroke="#fff" stroke-width="1.05" stroke-linecap="round" stroke-linejoin="round" points="62.1,69.3 54.4,61.9 38.9,52.8 37,35.3"/>
<polyline fill="none" stroke="#fff" stroke-width="1.05" stroke-linecap="round" stroke-linejoin="round" points="38.9,52.8 48,54.6"/>
<polyline fill="none" stroke="#fff" stroke-width="1.05" stroke-linecap="round" stroke-linejoin="round" points="16,50.9 19.6,61.9 24.2,72.1"/>
<polyline fill="none" stroke="#fff" stroke-width="1.05" stroke-linecap="round" stroke-linejoin="round" points="27,50.9 30.6,58.3 38.9,67.5 47.5,71.9"/>
<polyline fill="none" stroke="#fff" stroke-width="1.05" stroke-linecap="round" stroke-linejoin="round" points="3.2,63.8 17.8,68.4 28.8,72.1"/>
<polyline fill="none" stroke="#fff" stroke-width="1.3" stroke-linecap="round" stroke-linejoin="round" points="67.6,4.1 71.3,9.6 89.6,36.2 90.5,41.7 84.1,52.8 78.6,67.5 71.9,72"/>
<polyline fill="none" stroke="#fff" stroke-width="1.05" stroke-linecap="round" stroke-linejoin="round" points="80.4,41.7 82.2,54.6 79.5,70.2"/>
<polyline fill="none" stroke="#fff" stroke-width="1.05" stroke-linecap="round" stroke-linejoin="round" points="71.9,72 89.6,61.9 95,54.6"/>
<polyline fill="none" stroke="#fff" stroke-width="1.05" stroke-linecap="round" stroke-linejoin="round" points="89.6,61.9 91.8,57.9"/>
<polyline fill="none" stroke="#fff" stroke-width="1.05" stroke-linecap="round" stroke-linejoin="round" points="71.9,72 89.6,66 104.2,62.9 113.7,61.9"/>
<polyline fill="none" stroke="#fff" stroke-width="1.05" stroke-linecap="round" stroke-linejoin="round" points="104.2,62.9 107.9,54.6 110.8,51.7"/>
<polyline fill="none" stroke="#fff" stroke-width="1.05" stroke-linecap="round" stroke-linejoin="round" points="102.4,50.9 104.6,56.8"/>
<polyline fill="none" stroke="#fff" stroke-width="1.3" stroke-linecap="round" stroke-linejoin="round" points="124.3,50.9 129.8,72.1"/>
<polyline fill="none" stroke="#fff" stroke-width="1.3" stroke-linecap="round" stroke-linejoin="round" points="1.3,65 3.2,72.3 8.7,88.9 17.8,99.9 27,107.2 38.9,108.2 59.9,103.6 71.3,98.1"/>
<polyline fill="none" stroke="#fff" stroke-width="1.05" stroke-linecap="round" stroke-linejoin="round" points="16,83.4 19.6,94.4 27,106.3"/>
<polyline fill="none" stroke="#fff" stroke-width="1.05" stroke-linecap="round" stroke-linejoin="round" points="38.9,108.2 37,116.4"/>
<polyline fill="none" stroke="#fff" stroke-width="1.3" stroke-linecap="round" stroke-linejoin="round" points="48.9,110 50.8,122.3 54.4,123.8 71.8,119.7"/>
<polyline fill="none" stroke="#fff" stroke-width="1.05" stroke-linecap="round" stroke-linejoin="round" points="27,81.5 27,106.3"/>
<polyline fill="none" stroke="#fff" stroke-width="1.05" stroke-linecap="round" stroke-linejoin="round" points="38.9,81.5 38.9,92.5"/>
<polyline fill="none" stroke="#fff" stroke-width="1.05" stroke-linecap="round" stroke-linejoin="round" points="38.9,94.4 45.3,99.9 54.4,101.7"/>
<polyline fill="none" stroke="#fff" stroke-width="1.05" stroke-linecap="round" stroke-linejoin="round" points="48.9,88.9 54.4,98.1"/>
<polyline fill="none" stroke="#fff" stroke-width="1.05" stroke-linecap="round" stroke-linejoin="round" points="59.9,103.6 58.1,113.7"/>
<polyline fill="none" stroke="#fff" stroke-width="1.05" stroke-linecap="round" stroke-linejoin="round" points="62.6,110 63.6,120.1"/>
<polyline fill="none" stroke="#fff" stroke-width="1.3" stroke-linecap="round" stroke-linejoin="round" points="73.1,74.2 86.8,88.9 129.8,75.1 126.2,57.6"/>
<polyline fill="none" stroke="#fff" stroke-width="1.05" stroke-linecap="round" stroke-linejoin="round" points="78.6,77.8 89.6,83.7 99.6,84.3 107.9,76 114.3,71.4"/>
<polyline fill="none" stroke="#fff" stroke-width="1.3" stroke-linecap="round" stroke-linejoin="round" points="71.3,77.8 74,94.4 79.5,116.4 71.3,118.6 67.6,119.7"/>
<polyline fill="none" stroke="#fff" stroke-width="1.3" stroke-linecap="round" stroke-linejoin="round" points="62.1,69.3 62.1,52.4 60.3,39.9 58.5,30.9"/>
<polyline fill="none" stroke="#fff" stroke-width="1.05" stroke-linecap="round" stroke-linejoin="round" points="62.1,52.4 69.2,41.6"/>
<polyline fill="none" stroke="#fff" stroke-width="1.05" stroke-linecap="round" stroke-linejoin="round" points="62.1,52.4 49.6,39.9"/>
<polyline fill="none" stroke="#fff" stroke-width="1.05" stroke-linecap="round" stroke-linejoin="round" points="61.2,45.2 68.3,42.5"/>
<polyline fill="none" stroke="#fff" stroke-width="1.05" stroke-linecap="round" stroke-linejoin="round" points="62.1,69.3 51.4,64.9 40.7,52.4"/>
<polyline fill="none" stroke="#fff" stroke-width="1.05" stroke-linecap="round" stroke-linejoin="round" points="62.1,69.3 46.1,72.9 35.4,78.2"/>
<polyline fill="none" stroke="#fff" stroke-width="1.05" stroke-linecap="round" stroke-linejoin="round" points="71.9,72 71,61.3 71,52.4"/>
<polyline fill="none" stroke="#fff" stroke-width="1.05" stroke-linecap="round" stroke-linejoin="round" points="71.9,72 81.6,61.3 83.4,43.4 82.5,36.3"/>
<polyline fill="none" stroke="#fff" stroke-width="1.05" stroke-linecap="round" stroke-linejoin="round" points="71.9,72 87,64.9 94.1,59.5 105.1,61.3"/>
<polyline fill="none" stroke="#fff" stroke-width="1.05" stroke-linecap="round" stroke-linejoin="round" points="71.9,72 88.8,70.2 95.9,69.3"/>
<polyline fill="none" stroke="#fff" stroke-width="1.3" stroke-linecap="round" stroke-linejoin="round" points="71.9,72 87,88.1 105.1,82.7"/>
<polyline fill="none" stroke="#fff" stroke-width="1.3" stroke-linecap="round" stroke-linejoin="round" points="71.9,72 73.6,88.1 73.6,104.5"/>
<polyline fill="none" stroke="#fff" stroke-width="1.05" stroke-linecap="round" stroke-linejoin="round" points="71.9,72 79.9,80.9 88.8,83.6"/>
<polyline fill="none" stroke="#fff" stroke-width="1.05" stroke-linecap="round" stroke-linejoin="round" points="71.9,72 58.5,77.4 46.1,80.9 35.4,88.1"/>
<polyline fill="none" stroke="#fff" stroke-width="1.05" stroke-linecap="round" stroke-linejoin="round" points="71.9,72 67.4,82.7 56.7,89.9"/>
<polyline fill="none" stroke="#fff" stroke-width="1.05" stroke-linecap="round" stroke-linejoin="round" points="62.1,88.1 53.2,95.2"/>
<polyline fill="none" stroke="#f4f01e" stroke-width="2.5" stroke-linecap="butt" points="61.1,79.2 66.2,95"/>
</svg>
<div class="tk" style="left:395px;top:42.8px"></div>
<div class="yl" style="left:374px;top:39.5px">4.49</div>
<div class="tk" style="left:395px;top:64.5px"></div>
<div class="yl" style="left:374px;top:61.2px">4.48</div>
<div class="tk" style="left:395px;top:86.3px"></div>
<div class="yl" style="left:374px;top:83px">4.47</div>
<div class="tk" style="left:395px;top:108px"></div>
<div class="yl" style="left:374px;top:104.7px">4.46</div>
<div class="tk" style="left:395px;top:129.7px"></div>
<div class="yl" style="left:374px;top:126.4px">4.45</div>
<div class="tk" style="left:395px;top:151.4px"></div>
<div class="yl" style="left:374px;top:148.2px">4.44</div>
<div class="tk" style="left:395px;top:173.2px"></div>
<div class="yl" style="left:374px;top:169.9px">4.43</div>
<div class="tkx" style="left:413px;top:174.5px"></div>
<div class="xl" style="left:403.3px;top:180.9px">8.2</div>
<div class="tkx" style="left:434.8px;top:174.5px"></div>
<div class="xl" style="left:425.1px;top:180.9px">8.3</div>
<div class="tkx" style="left:456.7px;top:174.5px"></div>
<div class="xl" style="left:447px;top:180.9px">8.4</div>
<div class="tkx" style="left:478.6px;top:174.5px"></div>
<div class="xl" style="left:468.9px;top:180.9px">8.5</div>
<div class="tkx" style="left:500.5px;top:174.5px"></div>
<div class="xl" style="left:490.8px;top:180.9px">8.6</div>
<div class="tkx" style="left:522.3px;top:174.5px"></div>
<div class="xl" style="left:512.6px;top:180.9px">8.7</div>
<div class="ex" style="left:383.5px;top:13.3px">×10<sup>5</sup></div>
<div class="ex" style="left:474.7px;top:186.8px">×10<sup>4</sup></div>
<div class="al" style="left:402px;top:186.1px">x [m]</div>
<div class="al ay" style="left:373px;top:109.9px">y [m]</div>
<div class="tb" style="left:403.5px;top:6px;width:139.5px;height:25.5px"></div>
<div class="tt" style="left:426.4px;top:9.5px"><i class="om">ω</i><sub>ratio</sub><span class="eq">=</span><span class="d1">1</span><span class="co">:</span><span class="d2">1</span></div>
<!-- panel p4 -->
<svg class="plot" style="left:36px;top:222px" width="142" height="141.5" viewBox="0 0 143 143" preserveAspectRatio="none">
<rect x="0" y="0" width="143" height="143" fill="#0f0e97"/>
<g shape-rendering="geometricPrecision">
<polygon fill="#3a0ca4" points="15.1,5.4 31,23 46,29 46,62 27,62 27,92 18,96 3,72 0,70 0,29"/>
<polygon fill="#3a0ca4" points="0,70 3,72 18,96 0,96"/>
<polygon fill="#5a10ae" points="0,31 10,38 16,38.3 29.5,30.6 48,27.4 48,62 27,62 27,75 5,72 0,69.6"/>
<polygon fill="#280c9c" points="5,72 27,72 27,90.4 17.9,95"/>
<polygon fill="#4a10aa" points="0,119 8.4,119.1 12.3,138.3 36,133.1 36,133.9 12.5,140.3 0,141.6"/>
<polygon fill="#5a10b4" points="84.2,92.3 85.6,92.3 96.8,113.3 96.8,115.9"/>
<polygon fill="#5a10b4" points="96.5,112.8 96.5,115.4 99.1,122.5 98.3,122.5"/>
<polygon fill="#c63296" points="0,0 9.3,0 0,9.3"/>
<polygon fill="#a620ae" points="11.6,0 18.6,0 15.1,5.1"/>
<polygon fill="#a620ae" points="70.7,0 79,0 75.2,3.2"/>
<polygon fill="#9416b4" points="93.5,0 107.8,0 98.6,6.4 94.5,3.8"/>
<polygon fill="#6c0eb0" points="43.5,9.6 46.5,5.7 51.6,1.3 54.8,0 64.4,0 69.5,5.1 78.4,17.9 88.6,33.2 90.8,39.5 88,44 80,60 71.5,71.5 60,60 48.6,27.4 48.6,23"/>
<polygon fill="#a01eac" points="17,39.6 27.1,34.7 34.5,50.7 27.1,55.3 12.8,56.2 10.9,47.9"/>
<polygon fill="#0f0e97" points="35.1,31.7 47.8,27.6 44.7,35.4 37.8,36.9"/>
<polygon fill="#8e14b0" points="37.8,36.9 45.6,34.1 49.1,44.8 40.6,48.3"/>
<polygon fill="#e6626a" points="46.3,39.3 52.6,36.3 55.5,43.3 48.3,46.3"/>
<polygon fill="#f78c44" points="48.3,46.3 57.6,42 60.3,51.8 51.3,55.3"/>
<polygon fill="#6c0eb0" points="40.6,48.3 48.7,45.5 51.3,55.3 43.6,58.2"/>
<polygon fill="#f78c44" points="49.8,56.8 54.8,55.3 58.3,66 52.6,68"/>
<polygon fill="#d04880" points="60.3,51.8 68.8,48.3 73,59 64.6,61.8"/>
<polygon fill="#8010b0" points="10.6,46.1 21.6,53.5 31.8,49.8 34.2,55.9 17.9,64.5 6.9,55.3"/>
<polygon fill="#a620ae" points="65.9,3.8 71,7 68.4,12.8 63.3,11.5"/>
<polygon fill="#d04880" points="58.3,12.9 68,9.5 71,17.5 61,21"/>
<polygon fill="#a620ae" points="58.2,20.5 63.3,19.2 65.2,27.5 59.5,29.4"/>
<polygon fill="#e6626a" points="63.3,28.2 73.5,25.6 78.7,38.4 65.9,42.2"/>
<polygon fill="#cc4280" points="54.3,30.7 63.3,28.2 65.9,42.2 58.2,43.5"/>
<polygon fill="#d04880" points="73.5,25.6 81.2,23 88.9,37.1 78.7,38.4"/>
<polygon fill="#0f0e97" points="88.9,41 94.7,38.4 96.8,42.2 96.8,50.2 90.2,50.2 87.6,44.8"/>
<polygon fill="#e6626a" points="59.5,43.5 78.7,38.4 87.6,44.8 88.9,50.2 60.7,50.2"/>
<polygon fill="#5410ae" points="80.1,46.3 85.5,57.2 91.8,62.6 92.7,87.9 85.5,90.6 74.8,80.6 71.2,64.4 74.8,50"/>
<polygon fill="#d0507c" points="80.1,37.4 85.8,35.1 89.3,41.9 90.7,49.4 96.1,51.3 103.1,53.5 104.7,60.4 90.3,56.8 81.4,47.7"/>
<polygon fill="#0f0e97" points="89.3,41.3 96.7,40 101.8,46.4 96.1,51.1 90.7,49.3"/>
<polygon fill="#a620ae" points="90.9,61.7 108.8,58.1 110.6,67.1 92.7,70.7"/>
<polygon fill="#a01ec0" points="116.8,40 123.1,39.1 125.8,51.8 119.5,52.7"/>
<polygon fill="#a01ec0" points="109.6,48.1 132.1,45.4 133,50 110.5,52.7"/>
<polygon fill="#a222b8" points="107.8,52.7 126.7,50.9 130.3,72.5 110.5,77.4"/>
<polygon fill="#b62eb4" points="108.3,58.1 127.6,55.4 128.8,64.4 109.6,67.6"/>
<polygon fill="#5a10ae" points="92.7,70.7 97.2,69.8 99,82.4 92.7,87.9"/>
<polygon fill="#a422aa" points="26.6,78.6 71.5,78.4 73.1,96.4 76.3,102.2 80.6,116.8 47,128.4 40.9,129.8 26.6,116.4"/>
<polygon fill="#a620ae" points="29.6,45.8 40.4,42.2 48.4,55.8 40.4,62.1 29.6,58.5"/>
<polygon fill="#aa28a8" points="27.5,60.6 29.6,58.5 40.4,62.1 42.1,73.8 29.6,79.2 28.2,79.2"/>
<polygon fill="#8010b0" points="38.6,62.1 48.4,58.5 52,69.3 42.1,73.8"/>
<polygon fill="#e6626a" points="33.2,67.5 42.1,64.8 43.9,72 35,74.7"/>
<polygon fill="#e6626a" points="56.5,40.4 76.2,40.4 78.9,51.3 68.1,58.5 61,50.3"/>
<polygon fill="#f78c44" points="48.4,45.8 56.5,42.2 61,50.3 51.1,55.8"/>
<polygon fill="#f28248" points="48.4,55.8 54.7,54 59.2,67.5 52.9,70.2"/>
<polygon fill="#d04880" points="65.4,58.5 78.9,51.3 83.4,60.3 73.5,70.2"/>
<polygon fill="#c03890" points="54.7,54 61,50.3 68.1,58.5 71.7,72 59.2,67.5"/>
<polygon fill="#a822ac" points="59.6,78.8 68.5,76.4 71.9,94.2 64.3,99"/>
<polygon fill="#e6626a" points="52,68.7 58.9,68.7 61.2,88 64.3,99 57.4,99 54.3,84.2"/>
<polygon fill="#e6626a" points="58.9,71.8 67.3,71 68.5,76.4 59.6,78.8"/>
<polygon fill="#8e14b0" points="42.1,73.8 52.9,70.2 56.5,96.4 43.9,92.8"/>
<polygon fill="#f78c44" points="33.2,86.4 43.9,85.5 43.9,89.1 33.2,90.1"/>
<polygon fill="#0f0e97" points="57.4,65.7 62.8,64.8 63.7,70.2 58.3,71.1"/>
<polygon fill="#a620ae" points="43.9,92.8 56.5,94.6 58.3,111.2 45.7,111.2"/>
<polygon fill="#8010b0" points="28.7,94.6 43.9,92.8 45.7,111.2 28.7,111.2"/>
<polygon fill="#5410ae" points="81.6,47.6 90.5,58.5 99.8,63.9 99.8,87.3 83.4,91 72.6,72.9"/>
<polygon fill="#e6626a" points="28.3,81 44.5,81 45.4,90.9 28.3,91.8"/>
<polygon fill="#f78c44" points="33.7,86.4 44.5,85.5 44.5,89.1 33.7,89.7"/>
<polygon fill="#8010b0" points="45.4,82.8 52.5,81 56.1,97.2 48.1,99"/>
<polygon fill="#c84084" points="54.3,79.2 70.5,77.4 72.3,97.2 57.9,99.9"/>
<polygon fill="#d85474" points="29.2,112.6 48.1,107.2 49.9,118.9 32.8,122.5"/>
<polygon fill="#b8329c" points="58.5,103 74.5,99.2 80,116 60.5,120.5"/>
<polygon fill="#8010b0" points="32.8,122.5 49.9,118.9 50.7,126.5 40,129.4"/>
<polygon fill="#8010b0" points="49.9,119.8 59.7,118.9 60.6,124.3 51.1,126.5"/>
<polygon fill="#d84c7a" points="25.5,34.5 32.6,31.9 40.8,47.9 34.2,51.5"/>
<polygon fill="#a828a8" points="51.3,28.3 60.2,28.3 64.1,36 56.4,38.6"/>
<polygon fill="#9a20b0" points="73,28.3 84.5,28.3 86,33 84.8,36 76.9,36"/>
<polygon fill="#d04880" points="64.1,36 73,33.5 76.9,41.2 67.9,45"/>
<polygon fill="#0f0e97" points="62.1,47.6 65.3,50.2 65.3,59.2 62.1,56.7"/>
<polygon fill="#8614b4" points="71,8 84.5,27 78.8,31 65.5,12.5"/>
</g>
<circle cx="71.8" cy="71" r="67" fill="none" stroke="#e8e4f4" stroke-width="0.7" stroke-dasharray="2.1 1.9"/>
<polyline fill="none" stroke="#fff" stroke-width="1.25" stroke-linecap="round" stroke-linejoin="round" points="0,72.4 11.1,55.7 27.7,30.6 45.3,6.5 49.9,2.8 61,0.6 72.5,1.5"/>
<polyline fill="none" stroke="#fff" stroke-width="1.25" stroke-linecap="round" stroke-linejoin="round" points="45.9,7.4 39.8,24.1 37,37.1"/>
<polyline fill="none" stroke="#fff" stroke-width="1.0" stroke-linecap="round" stroke-linejoin="round" points="25,34.9 39.8,24.1"/>
<polyline fill="none" stroke="#fff" stroke-width="1.25" stroke-linecap="round" stroke-linejoin="round" points="46.2,8.4 49,26"/>
<polyline fill="none" stroke="#fff" stroke-width="1.0" stroke-linecap="round" stroke-linejoin="round" points="49,26 37,37.1"/>
<polyline fill="none" stroke="#fff" stroke-width="1.0" stroke-linecap="round" stroke-linejoin="round" points="61,17.6 71.2,13.9"/>
<polyline fill="none" stroke="#fff" stroke-width="1.25" stroke-linecap="round" stroke-linejoin="round" points="49,26 55.5,27.8 62.9,46.4 63.8,61.3 64.7,72.8"/>
<polyline fill="none" stroke="#fff" stroke-width="1.0" stroke-linecap="round" stroke-linejoin="round" points="50.9,39.9 59.2,36.2"/>
<polyline fill="none" stroke="#fff" stroke-width="1.0" stroke-linecap="round" stroke-linejoin="round" points="60.1,45.5 69.4,39.9"/>
<polyline fill="none" stroke="#fff" stroke-width="1.0" stroke-linecap="round" stroke-linejoin="round" points="61,53.8 67.5,52"/>
<polyline fill="none" stroke="#fff" stroke-width="1.0" stroke-linecap="round" stroke-linejoin="round" points="62.9,61.3 55.5,64"/>
<polyline fill="none" stroke="#fff" stroke-width="1.0" stroke-linecap="round" stroke-linejoin="round" points="27.7,52 28.7,72.8"/>
<polyline fill="none" stroke="#fff" stroke-width="1.0" stroke-linecap="round" stroke-linejoin="round" points="37,53.8 34.2,65 33.3,72.8"/>
<polyline fill="none" stroke="#fff" stroke-width="1.0" stroke-linecap="round" stroke-linejoin="round" points="3.7,65.9 15.7,52"/>
<polyline fill="none" stroke="#fff" stroke-width="1.0" stroke-linecap="round" stroke-linejoin="round" points="7.4,72.8 18.5,61.3"/>
<polyline fill="none" stroke="#fff" stroke-width="1.0" stroke-linecap="round" stroke-linejoin="round" points="20.3,41.8 25.9,48.3"/>
<polyline fill="none" stroke="#fff" stroke-width="1.25" stroke-linecap="round" stroke-linejoin="round" points="67.8,5.6 71.5,10.6 90.9,39.9 106.6,60.3 111.3,72.8"/>
<polyline fill="none" stroke="#fff" stroke-width="1.0" stroke-linecap="round" stroke-linejoin="round" points="90.9,39.9 97.4,50.1"/>
<polyline fill="none" stroke="#fff" stroke-width="1.0" stroke-linecap="round" stroke-linejoin="round" points="106.6,52.9 113.1,50.1 114,53.8"/>
<polyline fill="none" stroke="#fff" stroke-width="1.0" stroke-linecap="round" stroke-linejoin="round" points="105.7,53.8 108.5,59.4 111.3,61.3"/>
<polyline fill="none" stroke="#fff" stroke-width="1.0" stroke-linecap="round" stroke-linejoin="round" points="125.1,52 127.9,72.8"/>
<polyline fill="none" stroke="#fff" stroke-width="1.0" stroke-linecap="round" stroke-linejoin="round" points="77,27.8 82.6,31.6"/>
<polyline fill="none" stroke="#fff" stroke-width="1.0" stroke-linecap="round" stroke-linejoin="round" points="82.6,44.5 84.4,55.7 82.6,61.3"/>
<polyline fill="none" stroke="#fff" stroke-width="1.0" stroke-linecap="round" stroke-linejoin="round" points="91.8,50.1 97.4,49.2"/>
<polyline fill="none" stroke="#fff" stroke-width="1.0" stroke-linecap="round" stroke-linejoin="round" points="71.5,66.8 82.6,62.2 90,61.3"/>
<polyline fill="none" stroke="#fff" stroke-width="1.25" stroke-linecap="round" stroke-linejoin="round" points="0,73 27.7,110.7 37,124.6 72.5,116.2"/>
<polyline fill="none" stroke="#fff" stroke-width="1.0" stroke-linecap="round" stroke-linejoin="round" points="27.7,70.7 27.7,110.7"/>
<polyline fill="none" stroke="#fff" stroke-width="1.0" stroke-linecap="round" stroke-linejoin="round" points="6.5,82.8 15.7,74.5"/>
<polyline fill="none" stroke="#fff" stroke-width="1.0" stroke-linecap="round" stroke-linejoin="round" points="11.1,89.3 18.5,81.9"/>
<polyline fill="none" stroke="#fff" stroke-width="1.0" stroke-linecap="round" stroke-linejoin="round" points="18.5,98.6 16.6,83.7"/>
<polyline fill="none" stroke="#fff" stroke-width="1.0" stroke-linecap="round" stroke-linejoin="round" points="24,106 19.4,91.2"/>
<polyline fill="none" stroke="#fff" stroke-width="1.0" stroke-linecap="round" stroke-linejoin="round" points="27.7,110.7 39.8,103.2"/>
<polyline fill="none" stroke="#fff" stroke-width="1.0" stroke-linecap="round" stroke-linejoin="round" points="36.1,118.1 33.3,110.7"/>
<polyline fill="none" stroke="#fff" stroke-width="1.0" stroke-linecap="round" stroke-linejoin="round" points="39.8,122.3 37.9,115.3"/>
<polyline fill="none" stroke="#fff" stroke-width="1.0" stroke-linecap="round" stroke-linejoin="round" points="49,120.5 47.2,112.5"/>
<polyline fill="none" stroke="#fff" stroke-width="1.0" stroke-linecap="round" stroke-linejoin="round" points="27.7,80 39.8,73.5 48.1,70.7"/>
<polyline fill="none" stroke="#fff" stroke-width="1.0" stroke-linecap="round" stroke-linejoin="round" points="27.7,94.9 37,93.9"/>
<polyline fill="none" stroke="#fff" stroke-width="1.0" stroke-linecap="round" stroke-linejoin="round" points="39.8,91.2 53.6,100.4 62.9,94.9 72.5,96.7"/>
<polyline fill="none" stroke="#fff" stroke-width="1.0" stroke-linecap="round" stroke-linejoin="round" points="53.6,100.4 55.5,110.7"/>
<polyline fill="none" stroke="#fff" stroke-width="1.0" stroke-linecap="round" stroke-linejoin="round" points="61,118.1 59.2,110.7"/>
<polyline fill="none" stroke="#fff" stroke-width="1.25" stroke-linecap="round" stroke-linejoin="round" points="66,68.9 71.5,74.5 86.3,89.3 130.3,74.8 123.1,50.8"/>
<polyline fill="none" stroke="#fff" stroke-width="1.25" stroke-linecap="round" stroke-linejoin="round" points="69.7,88.4 71.5,93 79.8,115.3 71.5,118.1"/>
<polyline fill="none" stroke="#fff" stroke-width="1.0" stroke-linecap="round" stroke-linejoin="round" points="90,88.4 88.1,79.1"/>
<polyline fill="none" stroke="#fff" stroke-width="1.0" stroke-linecap="round" stroke-linejoin="round" points="101.1,84.7 105.7,70.7"/>
<polyline fill="none" stroke="#fff" stroke-width="1.0" stroke-linecap="round" stroke-linejoin="round" points="107.6,76.3 111.3,74.5"/>
<polyline fill="none" stroke="#fff" stroke-width="1.0" stroke-linecap="round" stroke-linejoin="round" points="117.7,79.1 115,68.9"/>
<polyline fill="none" stroke="#fff" stroke-width="1.25" stroke-linecap="round" stroke-linejoin="round" points="59.4,28.3 61.2,46.3 63.9,59 71.1,71.6"/>
<polyline fill="none" stroke="#fff" stroke-width="1.0" stroke-linecap="round" stroke-linejoin="round" points="61.2,46.3 68.4,40.9"/>
<polyline fill="none" stroke="#fff" stroke-width="1.0" stroke-linecap="round" stroke-linejoin="round" points="61.2,46.3 48.6,40"/>
<polyline fill="none" stroke="#fff" stroke-width="1.0" stroke-linecap="round" stroke-linejoin="round" points="63,53.6 68.4,51.8"/>
<polyline fill="none" stroke="#fff" stroke-width="1.0" stroke-linecap="round" stroke-linejoin="round" points="55.8,33.7 60.3,39.1"/>
<polyline fill="none" stroke="#fff" stroke-width="1.0" stroke-linecap="round" stroke-linejoin="round" points="71.1,71.6 80.1,59 81.9,40.9 81.4,33.7"/>
<polyline fill="none" stroke="#fff" stroke-width="1.0" stroke-linecap="round" stroke-linejoin="round" points="71.1,71.6 81,73.4 91.8,72.5"/>
<polyline fill="none" stroke="#fff" stroke-width="1.0" stroke-linecap="round" stroke-linejoin="round" points="71.1,71.6 88.2,64.4"/>
<polyline fill="none" stroke="#fff" stroke-width="1.25" stroke-linecap="round" stroke-linejoin="round" points="71.1,71.6 72,82.4 71.1,99"/>
<polyline fill="none" stroke="#fff" stroke-width="1.25" stroke-linecap="round" stroke-linejoin="round" points="71.1,71.6 78.3,84.2 84.6,88.8"/>
<polyline fill="none" stroke="#fff" stroke-width="1.0" stroke-linecap="round" stroke-linejoin="round" points="71.1,71.6 52.2,76.1 34.2,77.9"/>
<polyline fill="none" stroke="#fff" stroke-width="1.0" stroke-linecap="round" stroke-linejoin="round" points="71.1,71.6 61.2,67.1 48.6,55.4"/>
<polyline fill="none" stroke="#fff" stroke-width="1.0" stroke-linecap="round" stroke-linejoin="round" points="63.9,69.8 52.2,60.8"/>
<polyline fill="none" stroke="#fff" stroke-width="1.0" stroke-linecap="round" stroke-linejoin="round" points="93.6,50 102.6,50.9"/>
<polyline fill="none" stroke="#fff" stroke-width="1.0" stroke-linecap="round" stroke-linejoin="round" points="71.1,71.6 66.6,80.6"/>
<polyline fill="none" stroke="#fff" stroke-width="1.0" stroke-linecap="round" stroke-linejoin="round" points="71.1,71.6 76.5,64.4"/>
<polyline fill="none" stroke="#f4f01e" stroke-width="2.5" stroke-linecap="butt" points="61.1,79.2 66.2,95"/>
</svg>
<div class="tk" style="left:32.5px;top:233.2px"></div>
<div class="yl" style="left:11.5px;top:229.9px">4.49</div>
<div class="tk" style="left:32.5px;top:254.7px"></div>
<div class="yl" style="left:11.5px;top:251.4px">4.48</div>
<div class="tk" style="left:32.5px;top:276.2px"></div>
<div class="yl" style="left:11.5px;top:272.9px">4.47</div>
<div class="tk" style="left:32.5px;top:297.7px"></div>
<div class="yl" style="left:11.5px;top:294.4px">4.46</div>
<div class="tk" style="left:32.5px;top:319.2px"></div>
<div class="yl" style="left:11.5px;top:315.9px">4.45</div>
<div class="tk" style="left:32.5px;top:340.7px"></div>
<div class="yl" style="left:11.5px;top:337.4px">4.44</div>
<div class="tk" style="left:32.5px;top:362.2px"></div>
<div class="yl" style="left:11.5px;top:358.9px">4.43</div>
<div class="tkx" style="left:50.3px;top:363.5px"></div>
<div class="xl" style="left:40.6px;top:369.9px">8.2</div>
<div class="tkx" style="left:71.9px;top:363.5px"></div>
<div class="xl" style="left:62.2px;top:369.9px">8.3</div>
<div class="tkx" style="left:93.6px;top:363.5px"></div>
<div class="xl" style="left:83.9px;top:369.9px">8.4</div>
<div class="tkx" style="left:115.2px;top:363.5px"></div>
<div class="xl" style="left:105.5px;top:369.9px">8.5</div>
<div class="tkx" style="left:136.9px;top:363.5px"></div>
<div class="xl" style="left:127.2px;top:369.9px">8.6</div>
<div class="tkx" style="left:158.5px;top:363.5px"></div>
<div class="xl" style="left:148.8px;top:369.9px">8.7</div>
<div class="ex" style="left:21px;top:203.8px">×10<sup>5</sup></div>
<div class="ex" style="left:111.3px;top:375.8px">×10<sup>4</sup></div>
<div class="al" style="left:39.5px;top:375.1px">x [m]</div>
<div class="al ay" style="left:10.5px;top:299.6px">y [m]</div>
<div class="tb" style="left:33.5px;top:199.7px;width:157px;height:22.3px"></div>
<div class="tt" style="left:65.1px;top:199.1px"><i class="om">ω</i><sub>ratio</sub><span class="eq">=</span><span class="d1">4</span><span class="co">:</span><span class="d2">1</span></div>
<!-- panel p5 -->
<svg class="plot" style="left:215.5px;top:222px" width="142.5" height="141.5" viewBox="0 0 143 143" preserveAspectRatio="none">
<rect x="0" y="0" width="143" height="143" fill="#0f0e97"/>
<g shape-rendering="geometricPrecision">
<polygon fill="#3a0ca4" points="15.1,5.4 31,23 46,29 46,62 27,62 27,92 18,96 3,72 0,70 0,29"/>
<polygon fill="#3a0ca4" points="0,70 3,72 18,96 0,96"/>
<polygon fill="#5a10ae" points="0,31 10,38 16,38.3 29.5,30.6 48,27.4 48,62 27,62 27,75 5,72 0,69.6"/>
<polygon fill="#280c9c" points="5,72 27,72 27,90.4 17.9,95"/>
<polygon fill="#4a10aa" points="0,119 8.4,119.1 12.3,138.3 36,133.1 36,133.9 12.5,140.3 0,141.6"/>
<polygon fill="#5a10b4" points="84.2,92.3 85.6,92.3 96.8,113.3 96.8,115.9"/>
<polygon fill="#5a10b4" points="96.5,112.8 96.5,115.4 99.1,122.5 98.3,122.5"/>
<polygon fill="#c63296" points="0,0 9.3,0 0,9.3"/>
<polygon fill="#a620ae" points="11.6,0 18.6,0 15.1,5.1"/>
<polygon fill="#a620ae" points="70.7,0 79,0 75.2,3.2"/>
<polygon fill="#9416b4" points="93.5,0 107.8,0 98.6,6.4 94.5,3.8"/>
<polygon fill="#6c0eb0" points="43.5,9.6 46.5,5.7 51.6,1.3 54.8,0 64.4,0 69.5,5.1 78.4,17.9 88.6,33.2 90.8,39.5 88,44 80,60 71.5,71.5 60,60 48.6,27.4 48.6,23"/>
<polygon fill="#a01eac" points="17,39.6 27.1,34.7 34.5,50.7 27.1,55.3 12.8,56.2 10.9,47.9"/>
<polygon fill="#0f0e97" points="35.1,31.7 47.8,27.6 44.7,35.4 37.8,36.9"/>
<polygon fill="#8e14b0" points="37.8,36.9 45.6,34.1 49.1,44.8 40.6,48.3"/>
<polygon fill="#e6626a" points="46.3,39.3 52.6,36.3 55.5,43.3 48.3,46.3"/>
<polygon fill="#f78c44" points="48.3,46.3 57.6,42 60.3,51.8 51.3,55.3"/>
<polygon fill="#6c0eb0" points="40.6,48.3 48.7,45.5 51.3,55.3 43.6,58.2"/>
<polygon fill="#f78c44" points="49.8,56.8 54.8,55.3 58.3,66 52.6,68"/>
<polygon fill="#d04880" points="60.3,51.8 68.8,48.3 73,59 64.6,61.8"/>
<polygon fill="#8010b0" points="10.6,46.1 21.6,53.5 31.8,49.8 34.2,55.9 17.9,64.5 6.9,55.3"/>
<polygon fill="#a620ae" points="65.9,3.8 71,7 68.4,12.8 63.3,11.5"/>
<polygon fill="#d04880" points="58.3,12.9 68,9.5 71,17.5 61,21"/>
<polygon fill="#a620ae" points="58.2,20.5 63.3,19.2 65.2,27.5 59.5,29.4"/>
<polygon fill="#e6626a" points="63.3,28.2 73.5,25.6 78.7,38.4 65.9,42.2"/>
<polygon fill="#cc4280" points="54.3,30.7 63.3,28.2 65.9,42.2 58.2,43.5"/>
<polygon fill="#d04880" points="73.5,25.6 81.2,23 88.9,37.1 78.7,38.4"/>
<polygon fill="#0f0e97" points="88.9,41 94.7,38.4 96.8,42.2 96.8,50.2 90.2,50.2 87.6,44.8"/>
<polygon fill="#e6626a" points="59.5,43.5 78.7,38.4 87.6,44.8 88.9,50.2 60.7,50.2"/>
<polygon fill="#5410ae" points="80.1,46.3 85.5,57.2 91.8,62.6 92.7,87.9 85.5,90.6 74.8,80.6 71.2,64.4 74.8,50"/>
<polygon fill="#d0507c" points="80.1,37.4 85.8,35.1 89.3,41.9 90.7,49.4 96.1,51.3 103.1,53.5 104.7,60.4 90.3,56.8 81.4,47.7"/>
<polygon fill="#0f0e97" points="89.3,41.3 96.7,40 101.8,46.4 96.1,51.1 90.7,49.3"/>
<polygon fill="#a620ae" points="90.9,61.7 108.8,58.1 110.6,67.1 92.7,70.7"/>
<polygon fill="#a01ec0" points="116.8,40 123.1,39.1 125.8,51.8 119.5,52.7"/>
<polygon fill="#a01ec0" points="109.6,48.1 132.1,45.4 133,50 110.5,52.7"/>
<polygon fill="#a222b8" points="107.8,52.7 126.7,50.9 130.3,72.5 110.5,77.4"/>
<polygon fill="#b62eb4" points="108.3,58.1 127.6,55.4 128.8,64.4 109.6,67.6"/>
<polygon fill="#5a10ae" points="92.7,70.7 97.2,69.8 99,82.4 92.7,87.9"/>
<polygon fill="#a422aa" points="26.6,78.6 71.5,78.4 73.1,96.4 76.3,102.2 80.6,116.8 47,128.4 40.9,129.8 26.6,116.4"/>
<polygon fill="#a620ae" points="29.6,45.8 40.4,42.2 48.4,55.8 40.4,62.1 29.6,58.5"/>
<polygon fill="#aa28a8" points="27.5,60.6 29.6,58.5 40.4,62.1 42.1,73.8 29.6,79.2 28.2,79.2"/>
<polygon fill="#8010b0" points="38.6,62.1 48.4,58.5 52,69.3 42.1,73.8"/>
<polygon fill="#e6626a" points="33.2,67.5 42.1,64.8 43.9,72 35,74.7"/>
<polygon fill="#e6626a" points="56.5,40.4 76.2,40.4 78.9,51.3 68.1,58.5 61,50.3"/>
<polygon fill="#f78c44" points="48.4,45.8 56.5,42.2 61,50.3 51.1,55.8"/>
<polygon fill="#f28248" points="48.4,55.8 54.7,54 59.2,67.5 52.9,70.2"/>
<polygon fill="#d04880" points="65.4,58.5 78.9,51.3 83.4,60.3 73.5,70.2"/>
<polygon fill="#c03890" points="54.7,54 61,50.3 68.1,58.5 71.7,72 59.2,67.5"/>
<polygon fill="#a822ac" points="59.6,78.8 68.5,76.4 71.9,94.2 64.3,99"/>
<polygon fill="#e6626a" points="52,68.7 58.9,68.7 61.2,88 64.3,99 57.4,99 54.3,84.2"/>
<polygon fill="#e6626a" points="58.9,71.8 67.3,71 68.5,76.4 59.6,78.8"/>
<polygon fill="#8e14b0" points="42.1,73.8 52.9,70.2 56.5,96.4 43.9,92.8"/>
<polygon fill="#f78c44" points="33.2,86.4 43.9,85.5 43.9,89.1 33.2,90.1"/>
<polygon fill="#0f0e97" points="57.4,65.7 62.8,64.8 63.7,70.2 58.3,71.1"/>
<polygon fill="#a620ae" points="43.9,92.8 56.5,94.6 58.3,111.2 45.7,111.2"/>
<polygon fill="#8010b0" points="28.7,94.6 43.9,92.8 45.7,111.2 28.7,111.2"/>
<polygon fill="#5410ae" points="81.6,47.6 90.5,58.5 99.8,63.9 99.8,87.3 83.4,91 72.6,72.9"/>
<polygon fill="#e6626a" points="28.3,81 44.5,81 45.4,90.9 28.3,91.8"/>
<polygon fill="#f78c44" points="33.7,86.4 44.5,85.5 44.5,89.1 33.7,89.7"/>
<polygon fill="#8010b0" points="45.4,82.8 52.5,81 56.1,97.2 48.1,99"/>
<polygon fill="#c84084" points="54.3,79.2 70.5,77.4 72.3,97.2 57.9,99.9"/>
<polygon fill="#d85474" points="29.2,112.6 48.1,107.2 49.9,118.9 32.8,122.5"/>
<polygon fill="#b8329c" points="58.5,103 74.5,99.2 80,116 60.5,120.5"/>
<polygon fill="#8010b0" points="32.8,122.5 49.9,118.9 50.7,126.5 40,129.4"/>
<polygon fill="#8010b0" points="49.9,119.8 59.7,118.9 60.6,124.3 51.1,126.5"/>
<polygon fill="#d84c7a" points="25.5,34.5 32.6,31.9 40.8,47.9 34.2,51.5"/>
<polygon fill="#a828a8" points="51.3,28.3 60.2,28.3 64.1,36 56.4,38.6"/>
<polygon fill="#9a20b0" points="73,28.3 84.5,28.3 86,33 84.8,36 76.9,36"/>
<polygon fill="#d04880" points="64.1,36 73,33.5 76.9,41.2 67.9,45"/>
<polygon fill="#0f0e97" points="62.1,47.6 65.3,50.2 65.3,59.2 62.1,56.7"/>
<polygon fill="#8614b4" points="71,8 84.5,27 78.8,31 65.5,12.5"/>
</g>
<circle cx="71.8" cy="71" r="67" fill="none" stroke="#e8e4f4" stroke-width="0.7" stroke-dasharray="2.1 1.9"/>
<polyline fill="none" stroke="#fff" stroke-width="1.1" stroke-linecap="round" stroke-linejoin="round" points="16.7,39.2 27,30.3 48.7,26.6"/>
<polyline fill="none" stroke="#fff" stroke-width="1.1" stroke-linecap="round" stroke-linejoin="round" points="48.7,26.6 48.3,23 43.5,9.6 46.5,5.7 51.6,1.3 54.8,0.6 65.5,0.8 69.5,5.1 78.4,17.9 88.6,33.2 92.4,40.5 97.7,39.6 101.3,45 120,38.7 131.6,46.8 133.4,54.8 130.8,73.5 85.2,89.6 71.5,71.3"/>
<polyline fill="none" stroke="#fff" stroke-width="1.1" stroke-linecap="round" stroke-linejoin="round" points="71.5,71.3 72.3,84 73.1,96.4 76.3,102.2 80.6,116.8 49.5,126.8 40.3,130.3 27,116 23.3,95 14,93.5 0.1,69.6"/>
<polyline fill="none" stroke="#fff" stroke-width="1.1" stroke-linecap="round" stroke-linejoin="round" points="0.1,69.6 14.1,51.5"/>
<polyline fill="none" stroke="#fff" stroke-width="1.1" stroke-linecap="round" stroke-linejoin="round" points="0.1,69.6 27.6,51.5"/>
<polyline fill="none" stroke="#fff" stroke-width="1.1" stroke-linecap="round" stroke-linejoin="round" points="0.1,69.6 14.8,62.5"/>
<polyline fill="none" stroke="#fff" stroke-width="1.1" stroke-linecap="round" stroke-linejoin="round" points="2.6,72.8 14.8,73.4"/>
<polyline fill="none" stroke="#fff" stroke-width="1.1" stroke-linecap="round" stroke-linejoin="round" points="26.9,61.3 26.9,88.1 25,96"/>
<polyline fill="none" stroke="#fff" stroke-width="1.1" stroke-linecap="round" stroke-linejoin="round" points="16.1,83 18.6,90 25,96"/>
<polyline fill="none" stroke="#fff" stroke-width="1.1" stroke-linecap="round" stroke-linejoin="round" points="30.7,69.6 37.8,51.1"/>
<polyline fill="none" stroke="#fff" stroke-width="1.1" stroke-linecap="round" stroke-linejoin="round" points="30.7,69.6 49.5,49.8"/>
<polyline fill="none" stroke="#fff" stroke-width="1.1" stroke-linecap="round" stroke-linejoin="round" points="30.7,69.6 27,88"/>
<polyline fill="none" stroke="#fff" stroke-width="1.1" stroke-linecap="round" stroke-linejoin="round" points="34,63.8 46.7,60"/>
<polyline fill="none" stroke="#fff" stroke-width="1.1" stroke-linecap="round" stroke-linejoin="round" points="28.8,77.9 41.6,70.2 49.5,72.8"/>
<polyline fill="none" stroke="#fff" stroke-width="1.1" stroke-linecap="round" stroke-linejoin="round" points="36.5,77.9 37.8,83"/>
<polyline fill="none" stroke="#fff" stroke-width="1.1" stroke-linecap="round" stroke-linejoin="round" points="27,28.8 30.2,30.7"/>
<polyline fill="none" stroke="#fff" stroke-width="1.1" stroke-linecap="round" stroke-linejoin="round" points="24.5,34.6 27,39.7"/>
<polyline fill="none" stroke="#fff" stroke-width="1.1" stroke-linecap="round" stroke-linejoin="round" points="36.6,37.1 43,27.5"/>
<polyline fill="none" stroke="#fff" stroke-width="1.1" stroke-linecap="round" stroke-linejoin="round" points="35.3,36.5 37.3,39"/>
<polyline fill="none" stroke="#fff" stroke-width="1.1" stroke-linecap="round" stroke-linejoin="round" points="49.5,26.2 57.9,28.4"/>
<polyline fill="none" stroke="#fff" stroke-width="1.1" stroke-linecap="round" stroke-linejoin="round" points="49.5,26.2 48.1,28.4 39.6,30.5"/>
<polyline fill="none" stroke="#fff" stroke-width="1.1" stroke-linecap="round" stroke-linejoin="round" points="48.1,28.4 53.7,36.9"/>
<polyline fill="none" stroke="#fff" stroke-width="1.1" stroke-linecap="round" stroke-linejoin="round" points="70.1,12.7 59.2,18.5"/>
<polyline fill="none" stroke="#fff" stroke-width="1.1" stroke-linecap="round" stroke-linejoin="round" points="75.2,15.9 70.7,18.5"/>
<polyline fill="none" stroke="#fff" stroke-width="1.1" stroke-linecap="round" stroke-linejoin="round" points="79,19.8 71.3,22.4"/>
<polyline fill="none" stroke="#fff" stroke-width="1.1" stroke-linecap="round" stroke-linejoin="round" points="80.3,21.1 72.6,24.3 70.1,28.2"/>
<polyline fill="none" stroke="#fff" stroke-width="1.1" stroke-linecap="round" stroke-linejoin="round" points="84.8,28.2 76.5,32"/>
<polyline fill="none" stroke="#fff" stroke-width="1.1" stroke-linecap="round" stroke-linejoin="round" points="89.2,30.7 84.1,32 70.1,39.8"/>
<polyline fill="none" stroke="#fff" stroke-width="1.1" stroke-linecap="round" stroke-linejoin="round" points="88,37.2 86.7,34.6 81,37.9"/>
<polyline fill="none" stroke="#fff" stroke-width="1.1" stroke-linecap="round" stroke-linejoin="round" points="59.4,39 61.5,44 60.8,49.6"/>
<polyline fill="none" stroke="#fff" stroke-width="1.1" stroke-linecap="round" stroke-linejoin="round" points="61.5,44 63.6,48.2"/>
<polyline fill="none" stroke="#fff" stroke-width="1.1" stroke-linecap="round" stroke-linejoin="round" points="61.4,38.5 61.4,46.2 63.3,60.2 71.6,71.8"/>
<polyline fill="none" stroke="#fff" stroke-width="1.1" stroke-linecap="round" stroke-linejoin="round" points="71.6,71.8 81.2,61.5 81.9,51.3"/>
<polyline fill="none" stroke="#fff" stroke-width="1.1" stroke-linecap="round" stroke-linejoin="round" points="71.6,71.8 79.9,73"/>
<polyline fill="none" stroke="#fff" stroke-width="1.1" stroke-linecap="round" stroke-linejoin="round" points="59.5,61.5 71.6,71.8"/>
<polyline fill="none" stroke="#fff" stroke-width="1.1" stroke-linecap="round" stroke-linejoin="round" points="59.5,73.7 67.1,71.1"/>
<polyline fill="none" stroke="#fff" stroke-width="1.1" stroke-linecap="round" stroke-linejoin="round" points="58.8,83.3 71,79.4"/>
<polyline fill="none" stroke="#fff" stroke-width="1.1" stroke-linecap="round" stroke-linejoin="round" points="76.7,53.8 81.2,56.4"/>
<polyline fill="none" stroke="#fff" stroke-width="1.1" stroke-linecap="round" stroke-linejoin="round" points="91.5,48.7 96.8,48.7"/>
<polyline fill="none" stroke="#fff" stroke-width="1.1" stroke-linecap="round" stroke-linejoin="round" points="92.1,59 92.1,66.6"/>
<polyline fill="none" stroke="#fff" stroke-width="1.1" stroke-linecap="round" stroke-linejoin="round" points="92.1,72.4 96.8,71.8"/>
<polyline fill="none" stroke="#fff" stroke-width="1.1" stroke-linecap="round" stroke-linejoin="round" points="92.1,83.3 93.4,87.1"/>
<polyline fill="none" stroke="#fff" stroke-width="1.1" stroke-linecap="round" stroke-linejoin="round" points="96.4,67.9 100.2,83.3"/>
<polyline fill="none" stroke="#fff" stroke-width="1.1" stroke-linecap="round" stroke-linejoin="round" points="106.6,62.8 111.1,78.8"/>
<polyline fill="none" stroke="#fff" stroke-width="1.1" stroke-linecap="round" stroke-linejoin="round" points="123.9,51.3 130.9,75"/>
<polyline fill="none" stroke="#fff" stroke-width="1.1" stroke-linecap="round" stroke-linejoin="round" points="109.2,73.7 113.7,72.4"/>
<polyline fill="none" stroke="#fff" stroke-width="1.1" stroke-linecap="round" stroke-linejoin="round" points="123.9,73 126.5,71.8"/>
<polyline fill="none" stroke="#fff" stroke-width="1.1" stroke-linecap="round" stroke-linejoin="round" points="109.2,52.6 111.1,57.7 113,60.2"/>
<polyline fill="none" stroke="#fff" stroke-width="1.1" stroke-linecap="round" stroke-linejoin="round" points="110.5,50 113,51.3"/>
<polyline fill="none" stroke="#fff" stroke-width="1.1" stroke-linecap="round" stroke-linejoin="round" points="123.9,51.3 125.8,50"/>
<polyline fill="none" stroke="#fff" stroke-width="1.1" stroke-linecap="round" stroke-linejoin="round" points="101.6,45.4 109.7,51.8 118.7,40"/>
<polyline fill="none" stroke="#fff" stroke-width="1.1" stroke-linecap="round" stroke-linejoin="round" points="92.7,40.9 99.8,50"/>
<polyline fill="none" stroke="#fff" stroke-width="1.1" stroke-linecap="round" stroke-linejoin="round" points="98.1,40 94.5,46.3"/>
<polyline fill="none" stroke="#fff" stroke-width="1.1" stroke-linecap="round" stroke-linejoin="round" points="109.7,51.8 113.3,62.6"/>
<polyline fill="none" stroke="#fff" stroke-width="1.1" stroke-linecap="round" stroke-linejoin="round" points="103.4,60.8 106.1,68.9"/>
<polyline fill="none" stroke="#fff" stroke-width="1.1" stroke-linecap="round" stroke-linejoin="round" points="122.2,39.1 128.5,53.6 130.3,73.4"/>
<polyline fill="none" stroke="#fff" stroke-width="1.1" stroke-linecap="round" stroke-linejoin="round" points="26.6,79.2 26.6,117.1"/>
<polyline fill="none" stroke="#fff" stroke-width="1.1" stroke-linecap="round" stroke-linejoin="round" points="26.6,117.1 48.1,104.5"/>
<polyline fill="none" stroke="#fff" stroke-width="1.1" stroke-linecap="round" stroke-linejoin="round" points="34.6,109.9 38.2,116.2"/>
<polyline fill="none" stroke="#fff" stroke-width="1.1" stroke-linecap="round" stroke-linejoin="round" points="15.8,84.6 20.3,93.6 26.6,94.5 36.4,94.5"/>
<polyline fill="none" stroke="#fff" stroke-width="1.1" stroke-linecap="round" stroke-linejoin="round" points="20.3,93.6 17.6,96.3"/>
<polyline fill="none" stroke="#fff" stroke-width="1.1" stroke-linecap="round" stroke-linejoin="round" points="28.3,76.5 36.4,81 38.2,84.6"/>
<polyline fill="none" stroke="#fff" stroke-width="1.1" stroke-linecap="round" stroke-linejoin="round" points="36.4,81 48.1,76.5"/>
<polyline fill="none" stroke="#fff" stroke-width="1.1" stroke-linecap="round" stroke-linejoin="round" points="48.1,93.6 58.8,103.6 68.7,97.2"/>
<polyline fill="none" stroke="#fff" stroke-width="1.1" stroke-linecap="round" stroke-linejoin="round" points="58.8,103.6 61.5,115.3"/>
<polyline fill="none" stroke="#fff" stroke-width="1.1" stroke-linecap="round" stroke-linejoin="round" points="49.9,118.9 50.7,126.1"/>
<polyline fill="none" stroke="#fff" stroke-width="1.1" stroke-linecap="round" stroke-linejoin="round" points="68.7,97.2 71.4,86.4"/>
<polyline fill="none" stroke="#f4f01e" stroke-width="2.5" stroke-linecap="butt" points="61.1,79.2 66.2,95"/>
</svg>
<div class="tk" style="left:212px;top:233.2px"></div>
<div class="yl" style="left:191px;top:229.9px">4.49</div>
<div class="tk" style="left:212px;top:254.7px"></div>
<div class="yl" style="left:191px;top:251.4px">4.48</div>
<div class="tk" style="left:212px;top:276.2px"></div>
<div class="yl" style="left:191px;top:272.9px">4.47</div>
<div class="tk" style="left:212px;top:297.7px"></div>
<div class="yl" style="left:191px;top:294.4px">4.46</div>
<div class="tk" style="left:212px;top:319.2px"></div>
<div class="yl" style="left:191px;top:315.9px">4.45</div>
<div class="tk" style="left:212px;top:340.7px"></div>
<div class="yl" style="left:191px;top:337.4px">4.44</div>
<div class="tk" style="left:212px;top:362.2px"></div>
<div class="yl" style="left:191px;top:358.9px">4.43</div>
<div class="tkx" style="left:229.8px;top:363.5px"></div>
<div class="xl" style="left:220.1px;top:369.9px">8.2</div>
<div class="tkx" style="left:251.6px;top:363.5px"></div>
<div class="xl" style="left:241.9px;top:369.9px">8.3</div>
<div class="tkx" style="left:273.3px;top:363.5px"></div>
<div class="xl" style="left:263.6px;top:369.9px">8.4</div>
<div class="tkx" style="left:295px;top:363.5px"></div>
<div class="xl" style="left:285.3px;top:369.9px">8.5</div>
<div class="tkx" style="left:316.7px;top:363.5px"></div>
<div class="xl" style="left:307px;top:369.9px">8.6</div>
<div class="tkx" style="left:338.5px;top:363.5px"></div>
<div class="xl" style="left:328.8px;top:369.9px">8.7</div>
<div class="ex" style="left:200.5px;top:203.8px">×10<sup>5</sup></div>
<div class="ex" style="left:291.1px;top:375.8px">×10<sup>4</sup></div>
<div class="al" style="left:219px;top:375.1px">x [m]</div>
<div class="al ay" style="left:190px;top:299.6px">y [m]</div>
<div class="tb" style="left:213px;top:199.7px;width:157px;height:22.3px"></div>
<div class="tt" style="left:249.5px;top:199.1px"><i class="om">ω</i><sub>ratio</sub><span class="eq">=</span><span class="d1">1</span><span class="co">:</span><span class="d2">0</span></div>
</div>
</body>
</html>
